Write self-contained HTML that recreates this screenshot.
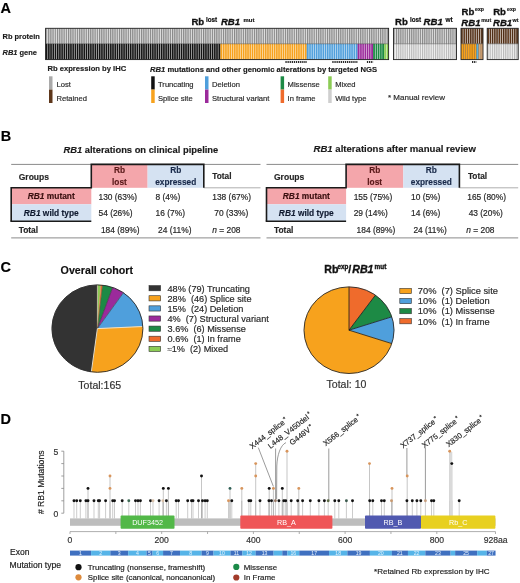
<!DOCTYPE html>
<html><head><meta charset="utf-8"><title>RB1 figure</title>
<style>
html,body{margin:0;padding:0;background:#fff;}
body{width:520px;height:583px;overflow:hidden;}
svg{display:block;font-family:"Liberation Sans",Arial,sans-serif;}
</style></head>
<body>
<svg width="520" height="583" viewBox="0 0 520 583">
<rect width="520" height="583" fill="#fff"/>
<text x="0.60" y="12.70" font-size="14.5" font-weight="bold" font-style="normal" fill="#000" text-anchor="start" stroke="#000" stroke-width="0.15" >A</text>
<text x="2.50" y="38.60" font-size="7.46" font-weight="bold" font-style="normal" fill="#1a1a1a" text-anchor="start" stroke="#1a1a1a" stroke-width="0.15" >Rb protein</text>
<text x="2.50" y="55.20" font-size="7.46" font-weight="bold" font-style="normal" fill="#1a1a1a" text-anchor="start" stroke="#1a1a1a" stroke-width="0.15" ><tspan font-style="italic">RB1</tspan> gene</text>
<rect x="45.600" y="28.3" width="2.233" height="15.50" fill="#a6a6a6"/>
<rect x="45.600" y="43.8" width="2.233" height="15.80" fill="#151515"/>
<rect x="47.813" y="28.3" width="2.233" height="15.50" fill="#a6a6a6"/>
<rect x="47.813" y="43.8" width="2.233" height="15.80" fill="#151515"/>
<rect x="50.026" y="28.3" width="2.233" height="15.50" fill="#a6a6a6"/>
<rect x="50.026" y="43.8" width="2.233" height="15.80" fill="#151515"/>
<rect x="52.239" y="28.3" width="2.233" height="15.50" fill="#a6a6a6"/>
<rect x="52.239" y="43.8" width="2.233" height="15.80" fill="#151515"/>
<rect x="54.452" y="28.3" width="2.233" height="15.50" fill="#a6a6a6"/>
<rect x="54.452" y="43.8" width="2.233" height="15.80" fill="#151515"/>
<rect x="56.665" y="28.3" width="2.233" height="15.50" fill="#a6a6a6"/>
<rect x="56.665" y="43.8" width="2.233" height="15.80" fill="#151515"/>
<rect x="58.878" y="28.3" width="2.233" height="15.50" fill="#a6a6a6"/>
<rect x="58.878" y="43.8" width="2.233" height="15.80" fill="#151515"/>
<rect x="61.091" y="28.3" width="2.233" height="15.50" fill="#a6a6a6"/>
<rect x="61.091" y="43.8" width="2.233" height="15.80" fill="#151515"/>
<rect x="63.304" y="28.3" width="2.233" height="15.50" fill="#a6a6a6"/>
<rect x="63.304" y="43.8" width="2.233" height="15.80" fill="#151515"/>
<rect x="65.517" y="28.3" width="2.233" height="15.50" fill="#a6a6a6"/>
<rect x="65.517" y="43.8" width="2.233" height="15.80" fill="#151515"/>
<rect x="67.730" y="28.3" width="2.233" height="15.50" fill="#a6a6a6"/>
<rect x="67.730" y="43.8" width="2.233" height="15.80" fill="#151515"/>
<rect x="69.943" y="28.3" width="2.233" height="15.50" fill="#a6a6a6"/>
<rect x="69.943" y="43.8" width="2.233" height="15.80" fill="#151515"/>
<rect x="72.156" y="28.3" width="2.233" height="15.50" fill="#a6a6a6"/>
<rect x="72.156" y="43.8" width="2.233" height="15.80" fill="#151515"/>
<rect x="74.369" y="28.3" width="2.233" height="15.50" fill="#a6a6a6"/>
<rect x="74.369" y="43.8" width="2.233" height="15.80" fill="#151515"/>
<rect x="76.582" y="28.3" width="2.233" height="15.50" fill="#a6a6a6"/>
<rect x="76.582" y="43.8" width="2.233" height="15.80" fill="#151515"/>
<rect x="78.795" y="28.3" width="2.233" height="15.50" fill="#a6a6a6"/>
<rect x="78.795" y="43.8" width="2.233" height="15.80" fill="#151515"/>
<rect x="81.008" y="28.3" width="2.233" height="15.50" fill="#a6a6a6"/>
<rect x="81.008" y="43.8" width="2.233" height="15.80" fill="#151515"/>
<rect x="83.221" y="28.3" width="2.233" height="15.50" fill="#a6a6a6"/>
<rect x="83.221" y="43.8" width="2.233" height="15.80" fill="#151515"/>
<rect x="85.434" y="28.3" width="2.233" height="15.50" fill="#a6a6a6"/>
<rect x="85.434" y="43.8" width="2.233" height="15.80" fill="#151515"/>
<rect x="87.647" y="28.3" width="2.233" height="15.50" fill="#a6a6a6"/>
<rect x="87.647" y="43.8" width="2.233" height="15.80" fill="#151515"/>
<rect x="89.860" y="28.3" width="2.233" height="15.50" fill="#a6a6a6"/>
<rect x="89.860" y="43.8" width="2.233" height="15.80" fill="#151515"/>
<rect x="92.073" y="28.3" width="2.233" height="15.50" fill="#a6a6a6"/>
<rect x="92.073" y="43.8" width="2.233" height="15.80" fill="#151515"/>
<rect x="94.286" y="28.3" width="2.233" height="15.50" fill="#a6a6a6"/>
<rect x="94.286" y="43.8" width="2.233" height="15.80" fill="#151515"/>
<rect x="96.499" y="28.3" width="2.233" height="15.50" fill="#a6a6a6"/>
<rect x="96.499" y="43.8" width="2.233" height="15.80" fill="#151515"/>
<rect x="98.712" y="28.3" width="2.233" height="15.50" fill="#a6a6a6"/>
<rect x="98.712" y="43.8" width="2.233" height="15.80" fill="#151515"/>
<rect x="100.925" y="28.3" width="2.233" height="15.50" fill="#a6a6a6"/>
<rect x="100.925" y="43.8" width="2.233" height="15.80" fill="#151515"/>
<rect x="103.138" y="28.3" width="2.233" height="15.50" fill="#a6a6a6"/>
<rect x="103.138" y="43.8" width="2.233" height="15.80" fill="#151515"/>
<rect x="105.351" y="28.3" width="2.233" height="15.50" fill="#a6a6a6"/>
<rect x="105.351" y="43.8" width="2.233" height="15.80" fill="#151515"/>
<rect x="107.564" y="28.3" width="2.233" height="15.50" fill="#a6a6a6"/>
<rect x="107.564" y="43.8" width="2.233" height="15.80" fill="#151515"/>
<rect x="109.777" y="28.3" width="2.233" height="15.50" fill="#a6a6a6"/>
<rect x="109.777" y="43.8" width="2.233" height="15.80" fill="#151515"/>
<rect x="111.990" y="28.3" width="2.233" height="15.50" fill="#a6a6a6"/>
<rect x="111.990" y="43.8" width="2.233" height="15.80" fill="#151515"/>
<rect x="114.203" y="28.3" width="2.233" height="15.50" fill="#a6a6a6"/>
<rect x="114.203" y="43.8" width="2.233" height="15.80" fill="#151515"/>
<rect x="116.416" y="28.3" width="2.233" height="15.50" fill="#a6a6a6"/>
<rect x="116.416" y="43.8" width="2.233" height="15.80" fill="#151515"/>
<rect x="118.629" y="28.3" width="2.233" height="15.50" fill="#a6a6a6"/>
<rect x="118.629" y="43.8" width="2.233" height="15.80" fill="#151515"/>
<rect x="120.842" y="28.3" width="2.233" height="15.50" fill="#a6a6a6"/>
<rect x="120.842" y="43.8" width="2.233" height="15.80" fill="#151515"/>
<rect x="123.055" y="28.3" width="2.233" height="15.50" fill="#a6a6a6"/>
<rect x="123.055" y="43.8" width="2.233" height="15.80" fill="#151515"/>
<rect x="125.268" y="28.3" width="2.233" height="15.50" fill="#a6a6a6"/>
<rect x="125.268" y="43.8" width="2.233" height="15.80" fill="#151515"/>
<rect x="127.481" y="28.3" width="2.233" height="15.50" fill="#a6a6a6"/>
<rect x="127.481" y="43.8" width="2.233" height="15.80" fill="#151515"/>
<rect x="129.694" y="28.3" width="2.233" height="15.50" fill="#a6a6a6"/>
<rect x="129.694" y="43.8" width="2.233" height="15.80" fill="#151515"/>
<rect x="131.907" y="28.3" width="2.233" height="15.50" fill="#a6a6a6"/>
<rect x="131.907" y="43.8" width="2.233" height="15.80" fill="#151515"/>
<rect x="134.120" y="28.3" width="2.233" height="15.50" fill="#a6a6a6"/>
<rect x="134.120" y="43.8" width="2.233" height="15.80" fill="#151515"/>
<rect x="136.333" y="28.3" width="2.233" height="15.50" fill="#a6a6a6"/>
<rect x="136.333" y="43.8" width="2.233" height="15.80" fill="#151515"/>
<rect x="138.546" y="28.3" width="2.233" height="15.50" fill="#a6a6a6"/>
<rect x="138.546" y="43.8" width="2.233" height="15.80" fill="#151515"/>
<rect x="140.759" y="28.3" width="2.233" height="15.50" fill="#a6a6a6"/>
<rect x="140.759" y="43.8" width="2.233" height="15.80" fill="#151515"/>
<rect x="142.972" y="28.3" width="2.233" height="15.50" fill="#a6a6a6"/>
<rect x="142.972" y="43.8" width="2.233" height="15.80" fill="#151515"/>
<rect x="145.185" y="28.3" width="2.233" height="15.50" fill="#a6a6a6"/>
<rect x="145.185" y="43.8" width="2.233" height="15.80" fill="#151515"/>
<rect x="147.398" y="28.3" width="2.233" height="15.50" fill="#a6a6a6"/>
<rect x="147.398" y="43.8" width="2.233" height="15.80" fill="#151515"/>
<rect x="149.611" y="28.3" width="2.233" height="15.50" fill="#a6a6a6"/>
<rect x="149.611" y="43.8" width="2.233" height="15.80" fill="#151515"/>
<rect x="151.824" y="28.3" width="2.233" height="15.50" fill="#a6a6a6"/>
<rect x="151.824" y="43.8" width="2.233" height="15.80" fill="#151515"/>
<rect x="154.037" y="28.3" width="2.233" height="15.50" fill="#a6a6a6"/>
<rect x="154.037" y="43.8" width="2.233" height="15.80" fill="#151515"/>
<rect x="156.250" y="28.3" width="2.233" height="15.50" fill="#a6a6a6"/>
<rect x="156.250" y="43.8" width="2.233" height="15.80" fill="#151515"/>
<rect x="158.463" y="28.3" width="2.233" height="15.50" fill="#a6a6a6"/>
<rect x="158.463" y="43.8" width="2.233" height="15.80" fill="#151515"/>
<rect x="160.676" y="28.3" width="2.233" height="15.50" fill="#a6a6a6"/>
<rect x="160.676" y="43.8" width="2.233" height="15.80" fill="#151515"/>
<rect x="162.889" y="28.3" width="2.233" height="15.50" fill="#a6a6a6"/>
<rect x="162.889" y="43.8" width="2.233" height="15.80" fill="#151515"/>
<rect x="165.102" y="28.3" width="2.233" height="15.50" fill="#a6a6a6"/>
<rect x="165.102" y="43.8" width="2.233" height="15.80" fill="#151515"/>
<rect x="167.315" y="28.3" width="2.233" height="15.50" fill="#a6a6a6"/>
<rect x="167.315" y="43.8" width="2.233" height="15.80" fill="#151515"/>
<rect x="169.528" y="28.3" width="2.233" height="15.50" fill="#a6a6a6"/>
<rect x="169.528" y="43.8" width="2.233" height="15.80" fill="#151515"/>
<rect x="171.741" y="28.3" width="2.233" height="15.50" fill="#a6a6a6"/>
<rect x="171.741" y="43.8" width="2.233" height="15.80" fill="#151515"/>
<rect x="173.954" y="28.3" width="2.233" height="15.50" fill="#a6a6a6"/>
<rect x="173.954" y="43.8" width="2.233" height="15.80" fill="#151515"/>
<rect x="176.167" y="28.3" width="2.233" height="15.50" fill="#a6a6a6"/>
<rect x="176.167" y="43.8" width="2.233" height="15.80" fill="#151515"/>
<rect x="178.380" y="28.3" width="2.233" height="15.50" fill="#a6a6a6"/>
<rect x="178.380" y="43.8" width="2.233" height="15.80" fill="#151515"/>
<rect x="180.593" y="28.3" width="2.233" height="15.50" fill="#a6a6a6"/>
<rect x="180.593" y="43.8" width="2.233" height="15.80" fill="#151515"/>
<rect x="182.806" y="28.3" width="2.233" height="15.50" fill="#a6a6a6"/>
<rect x="182.806" y="43.8" width="2.233" height="15.80" fill="#151515"/>
<rect x="185.019" y="28.3" width="2.233" height="15.50" fill="#a6a6a6"/>
<rect x="185.019" y="43.8" width="2.233" height="15.80" fill="#151515"/>
<rect x="187.232" y="28.3" width="2.233" height="15.50" fill="#a6a6a6"/>
<rect x="187.232" y="43.8" width="2.233" height="15.80" fill="#151515"/>
<rect x="189.445" y="28.3" width="2.233" height="15.50" fill="#a6a6a6"/>
<rect x="189.445" y="43.8" width="2.233" height="15.80" fill="#151515"/>
<rect x="191.658" y="28.3" width="2.233" height="15.50" fill="#a6a6a6"/>
<rect x="191.658" y="43.8" width="2.233" height="15.80" fill="#151515"/>
<rect x="193.871" y="28.3" width="2.233" height="15.50" fill="#a6a6a6"/>
<rect x="193.871" y="43.8" width="2.233" height="15.80" fill="#151515"/>
<rect x="196.084" y="28.3" width="2.233" height="15.50" fill="#a6a6a6"/>
<rect x="196.084" y="43.8" width="2.233" height="15.80" fill="#151515"/>
<rect x="198.297" y="28.3" width="2.233" height="15.50" fill="#a6a6a6"/>
<rect x="198.297" y="43.8" width="2.233" height="15.80" fill="#151515"/>
<rect x="200.510" y="28.3" width="2.233" height="15.50" fill="#a6a6a6"/>
<rect x="200.510" y="43.8" width="2.233" height="15.80" fill="#151515"/>
<rect x="202.723" y="28.3" width="2.233" height="15.50" fill="#a6a6a6"/>
<rect x="202.723" y="43.8" width="2.233" height="15.80" fill="#151515"/>
<rect x="204.936" y="28.3" width="2.233" height="15.50" fill="#a6a6a6"/>
<rect x="204.936" y="43.8" width="2.233" height="15.80" fill="#151515"/>
<rect x="207.149" y="28.3" width="2.233" height="15.50" fill="#a6a6a6"/>
<rect x="207.149" y="43.8" width="2.233" height="15.80" fill="#151515"/>
<rect x="209.362" y="28.3" width="2.233" height="15.50" fill="#a6a6a6"/>
<rect x="209.362" y="43.8" width="2.233" height="15.80" fill="#151515"/>
<rect x="211.575" y="28.3" width="2.233" height="15.50" fill="#a6a6a6"/>
<rect x="211.575" y="43.8" width="2.233" height="15.80" fill="#151515"/>
<rect x="213.788" y="28.3" width="2.233" height="15.50" fill="#a6a6a6"/>
<rect x="213.788" y="43.8" width="2.233" height="15.80" fill="#151515"/>
<rect x="216.001" y="28.3" width="2.233" height="15.50" fill="#a6a6a6"/>
<rect x="216.001" y="43.8" width="2.233" height="15.80" fill="#151515"/>
<rect x="218.214" y="28.3" width="2.233" height="15.50" fill="#a6a6a6"/>
<rect x="218.214" y="43.8" width="2.233" height="15.80" fill="#151515"/>
<rect x="220.427" y="28.3" width="2.233" height="15.50" fill="#a6a6a6"/>
<rect x="220.427" y="43.8" width="2.233" height="15.80" fill="#f7a21d"/>
<rect x="222.640" y="28.3" width="2.233" height="15.50" fill="#a6a6a6"/>
<rect x="222.640" y="43.8" width="2.233" height="15.80" fill="#f7a21d"/>
<rect x="224.853" y="28.3" width="2.233" height="15.50" fill="#a6a6a6"/>
<rect x="224.853" y="43.8" width="2.233" height="15.80" fill="#f7a21d"/>
<rect x="227.066" y="28.3" width="2.233" height="15.50" fill="#a6a6a6"/>
<rect x="227.066" y="43.8" width="2.233" height="15.80" fill="#f7a21d"/>
<rect x="229.279" y="28.3" width="2.233" height="15.50" fill="#a6a6a6"/>
<rect x="229.279" y="43.8" width="2.233" height="15.80" fill="#f7a21d"/>
<rect x="231.492" y="28.3" width="2.233" height="15.50" fill="#a6a6a6"/>
<rect x="231.492" y="43.8" width="2.233" height="15.80" fill="#f7a21d"/>
<rect x="233.705" y="28.3" width="2.233" height="15.50" fill="#a6a6a6"/>
<rect x="233.705" y="43.8" width="2.233" height="15.80" fill="#f7a21d"/>
<rect x="235.918" y="28.3" width="2.233" height="15.50" fill="#a6a6a6"/>
<rect x="235.918" y="43.8" width="2.233" height="15.80" fill="#f7a21d"/>
<rect x="238.131" y="28.3" width="2.233" height="15.50" fill="#a6a6a6"/>
<rect x="238.131" y="43.8" width="2.233" height="15.80" fill="#f7a21d"/>
<rect x="240.344" y="28.3" width="2.233" height="15.50" fill="#a6a6a6"/>
<rect x="240.344" y="43.8" width="2.233" height="15.80" fill="#f7a21d"/>
<rect x="242.557" y="28.3" width="2.233" height="15.50" fill="#a6a6a6"/>
<rect x="242.557" y="43.8" width="2.233" height="15.80" fill="#f7a21d"/>
<rect x="244.770" y="28.3" width="2.233" height="15.50" fill="#a6a6a6"/>
<rect x="244.770" y="43.8" width="2.233" height="15.80" fill="#f7a21d"/>
<rect x="246.983" y="28.3" width="2.233" height="15.50" fill="#a6a6a6"/>
<rect x="246.983" y="43.8" width="2.233" height="15.80" fill="#f7a21d"/>
<rect x="249.196" y="28.3" width="2.233" height="15.50" fill="#a6a6a6"/>
<rect x="249.196" y="43.8" width="2.233" height="15.80" fill="#f7a21d"/>
<rect x="251.409" y="28.3" width="2.233" height="15.50" fill="#a6a6a6"/>
<rect x="251.409" y="43.8" width="2.233" height="15.80" fill="#f7a21d"/>
<rect x="253.622" y="28.3" width="2.233" height="15.50" fill="#a6a6a6"/>
<rect x="253.622" y="43.8" width="2.233" height="15.80" fill="#f7a21d"/>
<rect x="255.835" y="28.3" width="2.233" height="15.50" fill="#a6a6a6"/>
<rect x="255.835" y="43.8" width="2.233" height="15.80" fill="#f7a21d"/>
<rect x="258.048" y="28.3" width="2.233" height="15.50" fill="#a6a6a6"/>
<rect x="258.048" y="43.8" width="2.233" height="15.80" fill="#f7a21d"/>
<rect x="260.261" y="28.3" width="2.233" height="15.50" fill="#a6a6a6"/>
<rect x="260.261" y="43.8" width="2.233" height="15.80" fill="#f7a21d"/>
<rect x="262.474" y="28.3" width="2.233" height="15.50" fill="#a6a6a6"/>
<rect x="262.474" y="43.8" width="2.233" height="15.80" fill="#f7a21d"/>
<rect x="264.687" y="28.3" width="2.233" height="15.50" fill="#a6a6a6"/>
<rect x="264.687" y="43.8" width="2.233" height="15.80" fill="#f7a21d"/>
<rect x="266.900" y="28.3" width="2.233" height="15.50" fill="#a6a6a6"/>
<rect x="266.900" y="43.8" width="2.233" height="15.80" fill="#f7a21d"/>
<rect x="269.113" y="28.3" width="2.233" height="15.50" fill="#a6a6a6"/>
<rect x="269.113" y="43.8" width="2.233" height="15.80" fill="#f7a21d"/>
<rect x="271.326" y="28.3" width="2.233" height="15.50" fill="#a6a6a6"/>
<rect x="271.326" y="43.8" width="2.233" height="15.80" fill="#f7a21d"/>
<rect x="273.539" y="28.3" width="2.233" height="15.50" fill="#a6a6a6"/>
<rect x="273.539" y="43.8" width="2.233" height="15.80" fill="#f7a21d"/>
<rect x="275.752" y="28.3" width="2.233" height="15.50" fill="#a6a6a6"/>
<rect x="275.752" y="43.8" width="2.233" height="15.80" fill="#f7a21d"/>
<rect x="277.965" y="28.3" width="2.233" height="15.50" fill="#a6a6a6"/>
<rect x="277.965" y="43.8" width="2.233" height="15.80" fill="#f7a21d"/>
<rect x="280.178" y="28.3" width="2.233" height="15.50" fill="#a6a6a6"/>
<rect x="280.178" y="43.8" width="2.233" height="15.80" fill="#f7a21d"/>
<rect x="282.391" y="28.3" width="2.233" height="15.50" fill="#a6a6a6"/>
<rect x="282.391" y="43.8" width="2.233" height="15.80" fill="#f7a21d"/>
<rect x="284.604" y="28.3" width="2.233" height="15.50" fill="#a6a6a6"/>
<rect x="284.604" y="43.8" width="2.233" height="15.80" fill="#f7a21d"/>
<rect x="286.817" y="28.3" width="2.233" height="15.50" fill="#a6a6a6"/>
<rect x="286.817" y="43.8" width="2.233" height="15.80" fill="#f7a21d"/>
<rect x="289.030" y="28.3" width="2.233" height="15.50" fill="#a6a6a6"/>
<rect x="289.030" y="43.8" width="2.233" height="15.80" fill="#f7a21d"/>
<rect x="291.243" y="28.3" width="2.233" height="15.50" fill="#a6a6a6"/>
<rect x="291.243" y="43.8" width="2.233" height="15.80" fill="#f7a21d"/>
<rect x="293.456" y="28.3" width="2.233" height="15.50" fill="#a6a6a6"/>
<rect x="293.456" y="43.8" width="2.233" height="15.80" fill="#f7a21d"/>
<rect x="295.669" y="28.3" width="2.233" height="15.50" fill="#a6a6a6"/>
<rect x="295.669" y="43.8" width="2.233" height="15.80" fill="#f7a21d"/>
<rect x="297.882" y="28.3" width="2.233" height="15.50" fill="#a6a6a6"/>
<rect x="297.882" y="43.8" width="2.233" height="15.80" fill="#f7a21d"/>
<rect x="300.095" y="28.3" width="2.233" height="15.50" fill="#a6a6a6"/>
<rect x="300.095" y="43.8" width="2.233" height="15.80" fill="#f7a21d"/>
<rect x="302.308" y="28.3" width="2.233" height="15.50" fill="#a6a6a6"/>
<rect x="302.308" y="43.8" width="2.233" height="15.80" fill="#f7a21d"/>
<rect x="304.521" y="28.3" width="2.233" height="15.50" fill="#a6a6a6"/>
<rect x="304.521" y="43.8" width="2.233" height="15.80" fill="#f7a21d"/>
<rect x="306.734" y="28.3" width="2.233" height="15.50" fill="#a6a6a6"/>
<rect x="306.734" y="43.8" width="2.233" height="15.80" fill="#4f9fdc"/>
<rect x="308.947" y="28.3" width="2.233" height="15.50" fill="#a6a6a6"/>
<rect x="308.947" y="43.8" width="2.233" height="15.80" fill="#4f9fdc"/>
<rect x="311.160" y="28.3" width="2.233" height="15.50" fill="#a6a6a6"/>
<rect x="311.160" y="43.8" width="2.233" height="15.80" fill="#4f9fdc"/>
<rect x="313.373" y="28.3" width="2.233" height="15.50" fill="#a6a6a6"/>
<rect x="313.373" y="43.8" width="2.233" height="15.80" fill="#4f9fdc"/>
<rect x="315.586" y="28.3" width="2.233" height="15.50" fill="#a6a6a6"/>
<rect x="315.586" y="43.8" width="2.233" height="15.80" fill="#4f9fdc"/>
<rect x="317.799" y="28.3" width="2.233" height="15.50" fill="#a6a6a6"/>
<rect x="317.799" y="43.8" width="2.233" height="15.80" fill="#4f9fdc"/>
<rect x="320.012" y="28.3" width="2.233" height="15.50" fill="#a6a6a6"/>
<rect x="320.012" y="43.8" width="2.233" height="15.80" fill="#4f9fdc"/>
<rect x="322.225" y="28.3" width="2.233" height="15.50" fill="#a6a6a6"/>
<rect x="322.225" y="43.8" width="2.233" height="15.80" fill="#4f9fdc"/>
<rect x="324.438" y="28.3" width="2.233" height="15.50" fill="#a6a6a6"/>
<rect x="324.438" y="43.8" width="2.233" height="15.80" fill="#4f9fdc"/>
<rect x="326.651" y="28.3" width="2.233" height="15.50" fill="#a6a6a6"/>
<rect x="326.651" y="43.8" width="2.233" height="15.80" fill="#4f9fdc"/>
<rect x="328.864" y="28.3" width="2.233" height="15.50" fill="#a6a6a6"/>
<rect x="328.864" y="43.8" width="2.233" height="15.80" fill="#4f9fdc"/>
<rect x="331.077" y="28.3" width="2.233" height="15.50" fill="#a6a6a6"/>
<rect x="331.077" y="43.8" width="2.233" height="15.80" fill="#4f9fdc"/>
<rect x="333.290" y="28.3" width="2.233" height="15.50" fill="#a6a6a6"/>
<rect x="333.290" y="43.8" width="2.233" height="15.80" fill="#4f9fdc"/>
<rect x="335.503" y="28.3" width="2.233" height="15.50" fill="#a6a6a6"/>
<rect x="335.503" y="43.8" width="2.233" height="15.80" fill="#4f9fdc"/>
<rect x="337.716" y="28.3" width="2.233" height="15.50" fill="#a6a6a6"/>
<rect x="337.716" y="43.8" width="2.233" height="15.80" fill="#4f9fdc"/>
<rect x="339.929" y="28.3" width="2.233" height="15.50" fill="#a6a6a6"/>
<rect x="339.929" y="43.8" width="2.233" height="15.80" fill="#4f9fdc"/>
<rect x="342.142" y="28.3" width="2.233" height="15.50" fill="#a6a6a6"/>
<rect x="342.142" y="43.8" width="2.233" height="15.80" fill="#4f9fdc"/>
<rect x="344.355" y="28.3" width="2.233" height="15.50" fill="#a6a6a6"/>
<rect x="344.355" y="43.8" width="2.233" height="15.80" fill="#4f9fdc"/>
<rect x="346.568" y="28.3" width="2.233" height="15.50" fill="#a6a6a6"/>
<rect x="346.568" y="43.8" width="2.233" height="15.80" fill="#4f9fdc"/>
<rect x="348.781" y="28.3" width="2.233" height="15.50" fill="#a6a6a6"/>
<rect x="348.781" y="43.8" width="2.233" height="15.80" fill="#4f9fdc"/>
<rect x="350.994" y="28.3" width="2.233" height="15.50" fill="#a6a6a6"/>
<rect x="350.994" y="43.8" width="2.233" height="15.80" fill="#4f9fdc"/>
<rect x="353.207" y="28.3" width="2.233" height="15.50" fill="#a6a6a6"/>
<rect x="353.207" y="43.8" width="2.233" height="15.80" fill="#4f9fdc"/>
<rect x="355.420" y="28.3" width="2.233" height="15.50" fill="#a6a6a6"/>
<rect x="355.420" y="43.8" width="2.233" height="15.80" fill="#4f9fdc"/>
<rect x="357.633" y="28.3" width="2.233" height="15.50" fill="#a6a6a6"/>
<rect x="357.633" y="43.8" width="2.233" height="15.80" fill="#9b2a9b"/>
<rect x="359.846" y="28.3" width="2.233" height="15.50" fill="#a6a6a6"/>
<rect x="359.846" y="43.8" width="2.233" height="15.80" fill="#9b2a9b"/>
<rect x="362.059" y="28.3" width="2.233" height="15.50" fill="#a6a6a6"/>
<rect x="362.059" y="43.8" width="2.233" height="15.80" fill="#9b2a9b"/>
<rect x="364.272" y="28.3" width="2.233" height="15.50" fill="#a6a6a6"/>
<rect x="364.272" y="43.8" width="2.233" height="15.80" fill="#9b2a9b"/>
<rect x="366.485" y="28.3" width="2.233" height="15.50" fill="#a6a6a6"/>
<rect x="366.485" y="43.8" width="2.233" height="15.80" fill="#9b2a9b"/>
<rect x="368.698" y="28.3" width="2.233" height="15.50" fill="#a6a6a6"/>
<rect x="368.698" y="43.8" width="2.233" height="15.80" fill="#9b2a9b"/>
<rect x="370.911" y="28.3" width="2.233" height="15.50" fill="#a6a6a6"/>
<rect x="370.911" y="43.8" width="2.233" height="15.80" fill="#9b2a9b"/>
<rect x="373.124" y="28.3" width="2.233" height="15.50" fill="#a6a6a6"/>
<rect x="373.124" y="43.8" width="2.233" height="15.80" fill="#1d8a45"/>
<rect x="375.337" y="28.3" width="2.233" height="15.50" fill="#a6a6a6"/>
<rect x="375.337" y="43.8" width="2.233" height="15.80" fill="#1d8a45"/>
<rect x="377.550" y="28.3" width="2.233" height="15.50" fill="#a6a6a6"/>
<rect x="377.550" y="43.8" width="2.233" height="15.80" fill="#1d8a45"/>
<rect x="379.763" y="28.3" width="2.233" height="15.50" fill="#a6a6a6"/>
<rect x="379.763" y="43.8" width="2.233" height="15.80" fill="#1d8a45"/>
<rect x="381.976" y="28.3" width="2.233" height="15.50" fill="#a6a6a6"/>
<rect x="381.976" y="43.8" width="2.233" height="15.80" fill="#1d8a45"/>
<rect x="384.189" y="28.3" width="2.233" height="15.50" fill="#a6a6a6"/>
<rect x="384.189" y="43.8" width="2.233" height="15.80" fill="#8ccc55"/>
<rect x="386.402" y="28.3" width="2.233" height="15.50" fill="#a6a6a6"/>
<rect x="386.402" y="43.8" width="2.233" height="15.80" fill="#8ccc55"/>
<rect x="47.363" y="28.3" width="0.75" height="15.50" fill="#ffffff" opacity="0.72"/>
<rect x="48.113" y="28.3" width="0.45" height="15.50" fill="#000" opacity="0.38"/>
<rect x="47.363" y="43.8" width="0.75" height="15.80" fill="#ffffff" opacity="0.6"/>
<rect x="48.113" y="43.8" width="0.45" height="15.80" fill="#000" opacity="0.3"/>
<rect x="49.576" y="28.3" width="0.75" height="15.50" fill="#ffffff" opacity="0.72"/>
<rect x="50.326" y="28.3" width="0.45" height="15.50" fill="#000" opacity="0.38"/>
<rect x="49.576" y="43.8" width="0.75" height="15.80" fill="#ffffff" opacity="0.6"/>
<rect x="50.326" y="43.8" width="0.45" height="15.80" fill="#000" opacity="0.3"/>
<rect x="51.789" y="28.3" width="0.75" height="15.50" fill="#ffffff" opacity="0.72"/>
<rect x="52.539" y="28.3" width="0.45" height="15.50" fill="#000" opacity="0.38"/>
<rect x="51.789" y="43.8" width="0.75" height="15.80" fill="#ffffff" opacity="0.6"/>
<rect x="52.539" y="43.8" width="0.45" height="15.80" fill="#000" opacity="0.3"/>
<rect x="54.002" y="28.3" width="0.75" height="15.50" fill="#ffffff" opacity="0.72"/>
<rect x="54.752" y="28.3" width="0.45" height="15.50" fill="#000" opacity="0.38"/>
<rect x="54.002" y="43.8" width="0.75" height="15.80" fill="#ffffff" opacity="0.6"/>
<rect x="54.752" y="43.8" width="0.45" height="15.80" fill="#000" opacity="0.3"/>
<rect x="56.215" y="28.3" width="0.75" height="15.50" fill="#ffffff" opacity="0.72"/>
<rect x="56.965" y="28.3" width="0.45" height="15.50" fill="#000" opacity="0.38"/>
<rect x="56.215" y="43.8" width="0.75" height="15.80" fill="#ffffff" opacity="0.6"/>
<rect x="56.965" y="43.8" width="0.45" height="15.80" fill="#000" opacity="0.3"/>
<rect x="58.428" y="28.3" width="0.75" height="15.50" fill="#ffffff" opacity="0.72"/>
<rect x="59.178" y="28.3" width="0.45" height="15.50" fill="#000" opacity="0.38"/>
<rect x="58.428" y="43.8" width="0.75" height="15.80" fill="#ffffff" opacity="0.6"/>
<rect x="59.178" y="43.8" width="0.45" height="15.80" fill="#000" opacity="0.3"/>
<rect x="60.641" y="28.3" width="0.75" height="15.50" fill="#ffffff" opacity="0.72"/>
<rect x="61.391" y="28.3" width="0.45" height="15.50" fill="#000" opacity="0.38"/>
<rect x="60.641" y="43.8" width="0.75" height="15.80" fill="#ffffff" opacity="0.6"/>
<rect x="61.391" y="43.8" width="0.45" height="15.80" fill="#000" opacity="0.3"/>
<rect x="62.854" y="28.3" width="0.75" height="15.50" fill="#ffffff" opacity="0.72"/>
<rect x="63.604" y="28.3" width="0.45" height="15.50" fill="#000" opacity="0.38"/>
<rect x="62.854" y="43.8" width="0.75" height="15.80" fill="#ffffff" opacity="0.6"/>
<rect x="63.604" y="43.8" width="0.45" height="15.80" fill="#000" opacity="0.3"/>
<rect x="65.067" y="28.3" width="0.75" height="15.50" fill="#ffffff" opacity="0.72"/>
<rect x="65.817" y="28.3" width="0.45" height="15.50" fill="#000" opacity="0.38"/>
<rect x="65.067" y="43.8" width="0.75" height="15.80" fill="#ffffff" opacity="0.6"/>
<rect x="65.817" y="43.8" width="0.45" height="15.80" fill="#000" opacity="0.3"/>
<rect x="67.280" y="28.3" width="0.75" height="15.50" fill="#ffffff" opacity="0.72"/>
<rect x="68.030" y="28.3" width="0.45" height="15.50" fill="#000" opacity="0.38"/>
<rect x="67.280" y="43.8" width="0.75" height="15.80" fill="#ffffff" opacity="0.6"/>
<rect x="68.030" y="43.8" width="0.45" height="15.80" fill="#000" opacity="0.3"/>
<rect x="69.493" y="28.3" width="0.75" height="15.50" fill="#ffffff" opacity="0.72"/>
<rect x="70.243" y="28.3" width="0.45" height="15.50" fill="#000" opacity="0.38"/>
<rect x="69.493" y="43.8" width="0.75" height="15.80" fill="#ffffff" opacity="0.6"/>
<rect x="70.243" y="43.8" width="0.45" height="15.80" fill="#000" opacity="0.3"/>
<rect x="71.706" y="28.3" width="0.75" height="15.50" fill="#ffffff" opacity="0.72"/>
<rect x="72.456" y="28.3" width="0.45" height="15.50" fill="#000" opacity="0.38"/>
<rect x="71.706" y="43.8" width="0.75" height="15.80" fill="#ffffff" opacity="0.6"/>
<rect x="72.456" y="43.8" width="0.45" height="15.80" fill="#000" opacity="0.3"/>
<rect x="73.919" y="28.3" width="0.75" height="15.50" fill="#ffffff" opacity="0.72"/>
<rect x="74.669" y="28.3" width="0.45" height="15.50" fill="#000" opacity="0.38"/>
<rect x="73.919" y="43.8" width="0.75" height="15.80" fill="#ffffff" opacity="0.6"/>
<rect x="74.669" y="43.8" width="0.45" height="15.80" fill="#000" opacity="0.3"/>
<rect x="76.132" y="28.3" width="0.75" height="15.50" fill="#ffffff" opacity="0.72"/>
<rect x="76.882" y="28.3" width="0.45" height="15.50" fill="#000" opacity="0.38"/>
<rect x="76.132" y="43.8" width="0.75" height="15.80" fill="#ffffff" opacity="0.6"/>
<rect x="76.882" y="43.8" width="0.45" height="15.80" fill="#000" opacity="0.3"/>
<rect x="78.345" y="28.3" width="0.75" height="15.50" fill="#ffffff" opacity="0.72"/>
<rect x="79.095" y="28.3" width="0.45" height="15.50" fill="#000" opacity="0.38"/>
<rect x="78.345" y="43.8" width="0.75" height="15.80" fill="#ffffff" opacity="0.6"/>
<rect x="79.095" y="43.8" width="0.45" height="15.80" fill="#000" opacity="0.3"/>
<rect x="80.558" y="28.3" width="0.75" height="15.50" fill="#ffffff" opacity="0.72"/>
<rect x="81.308" y="28.3" width="0.45" height="15.50" fill="#000" opacity="0.38"/>
<rect x="80.558" y="43.8" width="0.75" height="15.80" fill="#ffffff" opacity="0.6"/>
<rect x="81.308" y="43.8" width="0.45" height="15.80" fill="#000" opacity="0.3"/>
<rect x="82.771" y="28.3" width="0.75" height="15.50" fill="#ffffff" opacity="0.72"/>
<rect x="83.521" y="28.3" width="0.45" height="15.50" fill="#000" opacity="0.38"/>
<rect x="82.771" y="43.8" width="0.75" height="15.80" fill="#ffffff" opacity="0.6"/>
<rect x="83.521" y="43.8" width="0.45" height="15.80" fill="#000" opacity="0.3"/>
<rect x="84.984" y="28.3" width="0.75" height="15.50" fill="#ffffff" opacity="0.72"/>
<rect x="85.734" y="28.3" width="0.45" height="15.50" fill="#000" opacity="0.38"/>
<rect x="84.984" y="43.8" width="0.75" height="15.80" fill="#ffffff" opacity="0.6"/>
<rect x="85.734" y="43.8" width="0.45" height="15.80" fill="#000" opacity="0.3"/>
<rect x="87.197" y="28.3" width="0.75" height="15.50" fill="#ffffff" opacity="0.72"/>
<rect x="87.947" y="28.3" width="0.45" height="15.50" fill="#000" opacity="0.38"/>
<rect x="87.197" y="43.8" width="0.75" height="15.80" fill="#ffffff" opacity="0.6"/>
<rect x="87.947" y="43.8" width="0.45" height="15.80" fill="#000" opacity="0.3"/>
<rect x="89.410" y="28.3" width="0.75" height="15.50" fill="#ffffff" opacity="0.72"/>
<rect x="90.160" y="28.3" width="0.45" height="15.50" fill="#000" opacity="0.38"/>
<rect x="89.410" y="43.8" width="0.75" height="15.80" fill="#ffffff" opacity="0.6"/>
<rect x="90.160" y="43.8" width="0.45" height="15.80" fill="#000" opacity="0.3"/>
<rect x="91.623" y="28.3" width="0.75" height="15.50" fill="#ffffff" opacity="0.72"/>
<rect x="92.373" y="28.3" width="0.45" height="15.50" fill="#000" opacity="0.38"/>
<rect x="91.623" y="43.8" width="0.75" height="15.80" fill="#ffffff" opacity="0.6"/>
<rect x="92.373" y="43.8" width="0.45" height="15.80" fill="#000" opacity="0.3"/>
<rect x="93.836" y="28.3" width="0.75" height="15.50" fill="#ffffff" opacity="0.72"/>
<rect x="94.586" y="28.3" width="0.45" height="15.50" fill="#000" opacity="0.38"/>
<rect x="93.836" y="43.8" width="0.75" height="15.80" fill="#ffffff" opacity="0.6"/>
<rect x="94.586" y="43.8" width="0.45" height="15.80" fill="#000" opacity="0.3"/>
<rect x="96.049" y="28.3" width="0.75" height="15.50" fill="#ffffff" opacity="0.72"/>
<rect x="96.799" y="28.3" width="0.45" height="15.50" fill="#000" opacity="0.38"/>
<rect x="96.049" y="43.8" width="0.75" height="15.80" fill="#ffffff" opacity="0.6"/>
<rect x="96.799" y="43.8" width="0.45" height="15.80" fill="#000" opacity="0.3"/>
<rect x="98.262" y="28.3" width="0.75" height="15.50" fill="#ffffff" opacity="0.72"/>
<rect x="99.012" y="28.3" width="0.45" height="15.50" fill="#000" opacity="0.38"/>
<rect x="98.262" y="43.8" width="0.75" height="15.80" fill="#ffffff" opacity="0.6"/>
<rect x="99.012" y="43.8" width="0.45" height="15.80" fill="#000" opacity="0.3"/>
<rect x="100.475" y="28.3" width="0.75" height="15.50" fill="#ffffff" opacity="0.72"/>
<rect x="101.225" y="28.3" width="0.45" height="15.50" fill="#000" opacity="0.38"/>
<rect x="100.475" y="43.8" width="0.75" height="15.80" fill="#ffffff" opacity="0.6"/>
<rect x="101.225" y="43.8" width="0.45" height="15.80" fill="#000" opacity="0.3"/>
<rect x="102.688" y="28.3" width="0.75" height="15.50" fill="#ffffff" opacity="0.72"/>
<rect x="103.438" y="28.3" width="0.45" height="15.50" fill="#000" opacity="0.38"/>
<rect x="102.688" y="43.8" width="0.75" height="15.80" fill="#ffffff" opacity="0.6"/>
<rect x="103.438" y="43.8" width="0.45" height="15.80" fill="#000" opacity="0.3"/>
<rect x="104.901" y="28.3" width="0.75" height="15.50" fill="#ffffff" opacity="0.72"/>
<rect x="105.651" y="28.3" width="0.45" height="15.50" fill="#000" opacity="0.38"/>
<rect x="104.901" y="43.8" width="0.75" height="15.80" fill="#ffffff" opacity="0.6"/>
<rect x="105.651" y="43.8" width="0.45" height="15.80" fill="#000" opacity="0.3"/>
<rect x="107.114" y="28.3" width="0.75" height="15.50" fill="#ffffff" opacity="0.72"/>
<rect x="107.864" y="28.3" width="0.45" height="15.50" fill="#000" opacity="0.38"/>
<rect x="107.114" y="43.8" width="0.75" height="15.80" fill="#ffffff" opacity="0.6"/>
<rect x="107.864" y="43.8" width="0.45" height="15.80" fill="#000" opacity="0.3"/>
<rect x="109.327" y="28.3" width="0.75" height="15.50" fill="#ffffff" opacity="0.72"/>
<rect x="110.077" y="28.3" width="0.45" height="15.50" fill="#000" opacity="0.38"/>
<rect x="109.327" y="43.8" width="0.75" height="15.80" fill="#ffffff" opacity="0.6"/>
<rect x="110.077" y="43.8" width="0.45" height="15.80" fill="#000" opacity="0.3"/>
<rect x="111.540" y="28.3" width="0.75" height="15.50" fill="#ffffff" opacity="0.72"/>
<rect x="112.290" y="28.3" width="0.45" height="15.50" fill="#000" opacity="0.38"/>
<rect x="111.540" y="43.8" width="0.75" height="15.80" fill="#ffffff" opacity="0.6"/>
<rect x="112.290" y="43.8" width="0.45" height="15.80" fill="#000" opacity="0.3"/>
<rect x="113.753" y="28.3" width="0.75" height="15.50" fill="#ffffff" opacity="0.72"/>
<rect x="114.503" y="28.3" width="0.45" height="15.50" fill="#000" opacity="0.38"/>
<rect x="113.753" y="43.8" width="0.75" height="15.80" fill="#ffffff" opacity="0.6"/>
<rect x="114.503" y="43.8" width="0.45" height="15.80" fill="#000" opacity="0.3"/>
<rect x="115.966" y="28.3" width="0.75" height="15.50" fill="#ffffff" opacity="0.72"/>
<rect x="116.716" y="28.3" width="0.45" height="15.50" fill="#000" opacity="0.38"/>
<rect x="115.966" y="43.8" width="0.75" height="15.80" fill="#ffffff" opacity="0.6"/>
<rect x="116.716" y="43.8" width="0.45" height="15.80" fill="#000" opacity="0.3"/>
<rect x="118.179" y="28.3" width="0.75" height="15.50" fill="#ffffff" opacity="0.72"/>
<rect x="118.929" y="28.3" width="0.45" height="15.50" fill="#000" opacity="0.38"/>
<rect x="118.179" y="43.8" width="0.75" height="15.80" fill="#ffffff" opacity="0.6"/>
<rect x="118.929" y="43.8" width="0.45" height="15.80" fill="#000" opacity="0.3"/>
<rect x="120.392" y="28.3" width="0.75" height="15.50" fill="#ffffff" opacity="0.72"/>
<rect x="121.142" y="28.3" width="0.45" height="15.50" fill="#000" opacity="0.38"/>
<rect x="120.392" y="43.8" width="0.75" height="15.80" fill="#ffffff" opacity="0.6"/>
<rect x="121.142" y="43.8" width="0.45" height="15.80" fill="#000" opacity="0.3"/>
<rect x="122.605" y="28.3" width="0.75" height="15.50" fill="#ffffff" opacity="0.72"/>
<rect x="123.355" y="28.3" width="0.45" height="15.50" fill="#000" opacity="0.38"/>
<rect x="122.605" y="43.8" width="0.75" height="15.80" fill="#ffffff" opacity="0.6"/>
<rect x="123.355" y="43.8" width="0.45" height="15.80" fill="#000" opacity="0.3"/>
<rect x="124.818" y="28.3" width="0.75" height="15.50" fill="#ffffff" opacity="0.72"/>
<rect x="125.568" y="28.3" width="0.45" height="15.50" fill="#000" opacity="0.38"/>
<rect x="124.818" y="43.8" width="0.75" height="15.80" fill="#ffffff" opacity="0.6"/>
<rect x="125.568" y="43.8" width="0.45" height="15.80" fill="#000" opacity="0.3"/>
<rect x="127.031" y="28.3" width="0.75" height="15.50" fill="#ffffff" opacity="0.72"/>
<rect x="127.781" y="28.3" width="0.45" height="15.50" fill="#000" opacity="0.38"/>
<rect x="127.031" y="43.8" width="0.75" height="15.80" fill="#ffffff" opacity="0.6"/>
<rect x="127.781" y="43.8" width="0.45" height="15.80" fill="#000" opacity="0.3"/>
<rect x="129.244" y="28.3" width="0.75" height="15.50" fill="#ffffff" opacity="0.72"/>
<rect x="129.994" y="28.3" width="0.45" height="15.50" fill="#000" opacity="0.38"/>
<rect x="129.244" y="43.8" width="0.75" height="15.80" fill="#ffffff" opacity="0.6"/>
<rect x="129.994" y="43.8" width="0.45" height="15.80" fill="#000" opacity="0.3"/>
<rect x="131.457" y="28.3" width="0.75" height="15.50" fill="#ffffff" opacity="0.72"/>
<rect x="132.207" y="28.3" width="0.45" height="15.50" fill="#000" opacity="0.38"/>
<rect x="131.457" y="43.8" width="0.75" height="15.80" fill="#ffffff" opacity="0.6"/>
<rect x="132.207" y="43.8" width="0.45" height="15.80" fill="#000" opacity="0.3"/>
<rect x="133.670" y="28.3" width="0.75" height="15.50" fill="#ffffff" opacity="0.72"/>
<rect x="134.420" y="28.3" width="0.45" height="15.50" fill="#000" opacity="0.38"/>
<rect x="133.670" y="43.8" width="0.75" height="15.80" fill="#ffffff" opacity="0.6"/>
<rect x="134.420" y="43.8" width="0.45" height="15.80" fill="#000" opacity="0.3"/>
<rect x="135.883" y="28.3" width="0.75" height="15.50" fill="#ffffff" opacity="0.72"/>
<rect x="136.633" y="28.3" width="0.45" height="15.50" fill="#000" opacity="0.38"/>
<rect x="135.883" y="43.8" width="0.75" height="15.80" fill="#ffffff" opacity="0.6"/>
<rect x="136.633" y="43.8" width="0.45" height="15.80" fill="#000" opacity="0.3"/>
<rect x="138.096" y="28.3" width="0.75" height="15.50" fill="#ffffff" opacity="0.72"/>
<rect x="138.846" y="28.3" width="0.45" height="15.50" fill="#000" opacity="0.38"/>
<rect x="138.096" y="43.8" width="0.75" height="15.80" fill="#ffffff" opacity="0.6"/>
<rect x="138.846" y="43.8" width="0.45" height="15.80" fill="#000" opacity="0.3"/>
<rect x="140.309" y="28.3" width="0.75" height="15.50" fill="#ffffff" opacity="0.72"/>
<rect x="141.059" y="28.3" width="0.45" height="15.50" fill="#000" opacity="0.38"/>
<rect x="140.309" y="43.8" width="0.75" height="15.80" fill="#ffffff" opacity="0.6"/>
<rect x="141.059" y="43.8" width="0.45" height="15.80" fill="#000" opacity="0.3"/>
<rect x="142.522" y="28.3" width="0.75" height="15.50" fill="#ffffff" opacity="0.72"/>
<rect x="143.272" y="28.3" width="0.45" height="15.50" fill="#000" opacity="0.38"/>
<rect x="142.522" y="43.8" width="0.75" height="15.80" fill="#ffffff" opacity="0.6"/>
<rect x="143.272" y="43.8" width="0.45" height="15.80" fill="#000" opacity="0.3"/>
<rect x="144.735" y="28.3" width="0.75" height="15.50" fill="#ffffff" opacity="0.72"/>
<rect x="145.485" y="28.3" width="0.45" height="15.50" fill="#000" opacity="0.38"/>
<rect x="144.735" y="43.8" width="0.75" height="15.80" fill="#ffffff" opacity="0.6"/>
<rect x="145.485" y="43.8" width="0.45" height="15.80" fill="#000" opacity="0.3"/>
<rect x="146.948" y="28.3" width="0.75" height="15.50" fill="#ffffff" opacity="0.72"/>
<rect x="147.698" y="28.3" width="0.45" height="15.50" fill="#000" opacity="0.38"/>
<rect x="146.948" y="43.8" width="0.75" height="15.80" fill="#ffffff" opacity="0.6"/>
<rect x="147.698" y="43.8" width="0.45" height="15.80" fill="#000" opacity="0.3"/>
<rect x="149.161" y="28.3" width="0.75" height="15.50" fill="#ffffff" opacity="0.72"/>
<rect x="149.911" y="28.3" width="0.45" height="15.50" fill="#000" opacity="0.38"/>
<rect x="149.161" y="43.8" width="0.75" height="15.80" fill="#ffffff" opacity="0.6"/>
<rect x="149.911" y="43.8" width="0.45" height="15.80" fill="#000" opacity="0.3"/>
<rect x="151.374" y="28.3" width="0.75" height="15.50" fill="#ffffff" opacity="0.72"/>
<rect x="152.124" y="28.3" width="0.45" height="15.50" fill="#000" opacity="0.38"/>
<rect x="151.374" y="43.8" width="0.75" height="15.80" fill="#ffffff" opacity="0.6"/>
<rect x="152.124" y="43.8" width="0.45" height="15.80" fill="#000" opacity="0.3"/>
<rect x="153.587" y="28.3" width="0.75" height="15.50" fill="#ffffff" opacity="0.72"/>
<rect x="154.337" y="28.3" width="0.45" height="15.50" fill="#000" opacity="0.38"/>
<rect x="153.587" y="43.8" width="0.75" height="15.80" fill="#ffffff" opacity="0.6"/>
<rect x="154.337" y="43.8" width="0.45" height="15.80" fill="#000" opacity="0.3"/>
<rect x="155.800" y="28.3" width="0.75" height="15.50" fill="#ffffff" opacity="0.72"/>
<rect x="156.550" y="28.3" width="0.45" height="15.50" fill="#000" opacity="0.38"/>
<rect x="155.800" y="43.8" width="0.75" height="15.80" fill="#ffffff" opacity="0.6"/>
<rect x="156.550" y="43.8" width="0.45" height="15.80" fill="#000" opacity="0.3"/>
<rect x="158.013" y="28.3" width="0.75" height="15.50" fill="#ffffff" opacity="0.72"/>
<rect x="158.763" y="28.3" width="0.45" height="15.50" fill="#000" opacity="0.38"/>
<rect x="158.013" y="43.8" width="0.75" height="15.80" fill="#ffffff" opacity="0.6"/>
<rect x="158.763" y="43.8" width="0.45" height="15.80" fill="#000" opacity="0.3"/>
<rect x="160.226" y="28.3" width="0.75" height="15.50" fill="#ffffff" opacity="0.72"/>
<rect x="160.976" y="28.3" width="0.45" height="15.50" fill="#000" opacity="0.38"/>
<rect x="160.226" y="43.8" width="0.75" height="15.80" fill="#ffffff" opacity="0.6"/>
<rect x="160.976" y="43.8" width="0.45" height="15.80" fill="#000" opacity="0.3"/>
<rect x="162.439" y="28.3" width="0.75" height="15.50" fill="#ffffff" opacity="0.72"/>
<rect x="163.189" y="28.3" width="0.45" height="15.50" fill="#000" opacity="0.38"/>
<rect x="162.439" y="43.8" width="0.75" height="15.80" fill="#ffffff" opacity="0.6"/>
<rect x="163.189" y="43.8" width="0.45" height="15.80" fill="#000" opacity="0.3"/>
<rect x="164.652" y="28.3" width="0.75" height="15.50" fill="#ffffff" opacity="0.72"/>
<rect x="165.402" y="28.3" width="0.45" height="15.50" fill="#000" opacity="0.38"/>
<rect x="164.652" y="43.8" width="0.75" height="15.80" fill="#ffffff" opacity="0.6"/>
<rect x="165.402" y="43.8" width="0.45" height="15.80" fill="#000" opacity="0.3"/>
<rect x="166.865" y="28.3" width="0.75" height="15.50" fill="#ffffff" opacity="0.72"/>
<rect x="167.615" y="28.3" width="0.45" height="15.50" fill="#000" opacity="0.38"/>
<rect x="166.865" y="43.8" width="0.75" height="15.80" fill="#ffffff" opacity="0.6"/>
<rect x="167.615" y="43.8" width="0.45" height="15.80" fill="#000" opacity="0.3"/>
<rect x="169.078" y="28.3" width="0.75" height="15.50" fill="#ffffff" opacity="0.72"/>
<rect x="169.828" y="28.3" width="0.45" height="15.50" fill="#000" opacity="0.38"/>
<rect x="169.078" y="43.8" width="0.75" height="15.80" fill="#ffffff" opacity="0.6"/>
<rect x="169.828" y="43.8" width="0.45" height="15.80" fill="#000" opacity="0.3"/>
<rect x="171.291" y="28.3" width="0.75" height="15.50" fill="#ffffff" opacity="0.72"/>
<rect x="172.041" y="28.3" width="0.45" height="15.50" fill="#000" opacity="0.38"/>
<rect x="171.291" y="43.8" width="0.75" height="15.80" fill="#ffffff" opacity="0.6"/>
<rect x="172.041" y="43.8" width="0.45" height="15.80" fill="#000" opacity="0.3"/>
<rect x="173.504" y="28.3" width="0.75" height="15.50" fill="#ffffff" opacity="0.72"/>
<rect x="174.254" y="28.3" width="0.45" height="15.50" fill="#000" opacity="0.38"/>
<rect x="173.504" y="43.8" width="0.75" height="15.80" fill="#ffffff" opacity="0.6"/>
<rect x="174.254" y="43.8" width="0.45" height="15.80" fill="#000" opacity="0.3"/>
<rect x="175.717" y="28.3" width="0.75" height="15.50" fill="#ffffff" opacity="0.72"/>
<rect x="176.467" y="28.3" width="0.45" height="15.50" fill="#000" opacity="0.38"/>
<rect x="175.717" y="43.8" width="0.75" height="15.80" fill="#ffffff" opacity="0.6"/>
<rect x="176.467" y="43.8" width="0.45" height="15.80" fill="#000" opacity="0.3"/>
<rect x="177.930" y="28.3" width="0.75" height="15.50" fill="#ffffff" opacity="0.72"/>
<rect x="178.680" y="28.3" width="0.45" height="15.50" fill="#000" opacity="0.38"/>
<rect x="177.930" y="43.8" width="0.75" height="15.80" fill="#ffffff" opacity="0.6"/>
<rect x="178.680" y="43.8" width="0.45" height="15.80" fill="#000" opacity="0.3"/>
<rect x="180.143" y="28.3" width="0.75" height="15.50" fill="#ffffff" opacity="0.72"/>
<rect x="180.893" y="28.3" width="0.45" height="15.50" fill="#000" opacity="0.38"/>
<rect x="180.143" y="43.8" width="0.75" height="15.80" fill="#ffffff" opacity="0.6"/>
<rect x="180.893" y="43.8" width="0.45" height="15.80" fill="#000" opacity="0.3"/>
<rect x="182.356" y="28.3" width="0.75" height="15.50" fill="#ffffff" opacity="0.72"/>
<rect x="183.106" y="28.3" width="0.45" height="15.50" fill="#000" opacity="0.38"/>
<rect x="182.356" y="43.8" width="0.75" height="15.80" fill="#ffffff" opacity="0.6"/>
<rect x="183.106" y="43.8" width="0.45" height="15.80" fill="#000" opacity="0.3"/>
<rect x="184.569" y="28.3" width="0.75" height="15.50" fill="#ffffff" opacity="0.72"/>
<rect x="185.319" y="28.3" width="0.45" height="15.50" fill="#000" opacity="0.38"/>
<rect x="184.569" y="43.8" width="0.75" height="15.80" fill="#ffffff" opacity="0.6"/>
<rect x="185.319" y="43.8" width="0.45" height="15.80" fill="#000" opacity="0.3"/>
<rect x="186.782" y="28.3" width="0.75" height="15.50" fill="#ffffff" opacity="0.72"/>
<rect x="187.532" y="28.3" width="0.45" height="15.50" fill="#000" opacity="0.38"/>
<rect x="186.782" y="43.8" width="0.75" height="15.80" fill="#ffffff" opacity="0.6"/>
<rect x="187.532" y="43.8" width="0.45" height="15.80" fill="#000" opacity="0.3"/>
<rect x="188.995" y="28.3" width="0.75" height="15.50" fill="#ffffff" opacity="0.72"/>
<rect x="189.745" y="28.3" width="0.45" height="15.50" fill="#000" opacity="0.38"/>
<rect x="188.995" y="43.8" width="0.75" height="15.80" fill="#ffffff" opacity="0.6"/>
<rect x="189.745" y="43.8" width="0.45" height="15.80" fill="#000" opacity="0.3"/>
<rect x="191.208" y="28.3" width="0.75" height="15.50" fill="#ffffff" opacity="0.72"/>
<rect x="191.958" y="28.3" width="0.45" height="15.50" fill="#000" opacity="0.38"/>
<rect x="191.208" y="43.8" width="0.75" height="15.80" fill="#ffffff" opacity="0.6"/>
<rect x="191.958" y="43.8" width="0.45" height="15.80" fill="#000" opacity="0.3"/>
<rect x="193.421" y="28.3" width="0.75" height="15.50" fill="#ffffff" opacity="0.72"/>
<rect x="194.171" y="28.3" width="0.45" height="15.50" fill="#000" opacity="0.38"/>
<rect x="193.421" y="43.8" width="0.75" height="15.80" fill="#ffffff" opacity="0.6"/>
<rect x="194.171" y="43.8" width="0.45" height="15.80" fill="#000" opacity="0.3"/>
<rect x="195.634" y="28.3" width="0.75" height="15.50" fill="#ffffff" opacity="0.72"/>
<rect x="196.384" y="28.3" width="0.45" height="15.50" fill="#000" opacity="0.38"/>
<rect x="195.634" y="43.8" width="0.75" height="15.80" fill="#ffffff" opacity="0.6"/>
<rect x="196.384" y="43.8" width="0.45" height="15.80" fill="#000" opacity="0.3"/>
<rect x="197.847" y="28.3" width="0.75" height="15.50" fill="#ffffff" opacity="0.72"/>
<rect x="198.597" y="28.3" width="0.45" height="15.50" fill="#000" opacity="0.38"/>
<rect x="197.847" y="43.8" width="0.75" height="15.80" fill="#ffffff" opacity="0.6"/>
<rect x="198.597" y="43.8" width="0.45" height="15.80" fill="#000" opacity="0.3"/>
<rect x="200.060" y="28.3" width="0.75" height="15.50" fill="#ffffff" opacity="0.72"/>
<rect x="200.810" y="28.3" width="0.45" height="15.50" fill="#000" opacity="0.38"/>
<rect x="200.060" y="43.8" width="0.75" height="15.80" fill="#ffffff" opacity="0.6"/>
<rect x="200.810" y="43.8" width="0.45" height="15.80" fill="#000" opacity="0.3"/>
<rect x="202.273" y="28.3" width="0.75" height="15.50" fill="#ffffff" opacity="0.72"/>
<rect x="203.023" y="28.3" width="0.45" height="15.50" fill="#000" opacity="0.38"/>
<rect x="202.273" y="43.8" width="0.75" height="15.80" fill="#ffffff" opacity="0.6"/>
<rect x="203.023" y="43.8" width="0.45" height="15.80" fill="#000" opacity="0.3"/>
<rect x="204.486" y="28.3" width="0.75" height="15.50" fill="#ffffff" opacity="0.72"/>
<rect x="205.236" y="28.3" width="0.45" height="15.50" fill="#000" opacity="0.38"/>
<rect x="204.486" y="43.8" width="0.75" height="15.80" fill="#ffffff" opacity="0.6"/>
<rect x="205.236" y="43.8" width="0.45" height="15.80" fill="#000" opacity="0.3"/>
<rect x="206.699" y="28.3" width="0.75" height="15.50" fill="#ffffff" opacity="0.72"/>
<rect x="207.449" y="28.3" width="0.45" height="15.50" fill="#000" opacity="0.38"/>
<rect x="206.699" y="43.8" width="0.75" height="15.80" fill="#ffffff" opacity="0.6"/>
<rect x="207.449" y="43.8" width="0.45" height="15.80" fill="#000" opacity="0.3"/>
<rect x="208.912" y="28.3" width="0.75" height="15.50" fill="#ffffff" opacity="0.72"/>
<rect x="209.662" y="28.3" width="0.45" height="15.50" fill="#000" opacity="0.38"/>
<rect x="208.912" y="43.8" width="0.75" height="15.80" fill="#ffffff" opacity="0.6"/>
<rect x="209.662" y="43.8" width="0.45" height="15.80" fill="#000" opacity="0.3"/>
<rect x="211.125" y="28.3" width="0.75" height="15.50" fill="#ffffff" opacity="0.72"/>
<rect x="211.875" y="28.3" width="0.45" height="15.50" fill="#000" opacity="0.38"/>
<rect x="211.125" y="43.8" width="0.75" height="15.80" fill="#ffffff" opacity="0.6"/>
<rect x="211.875" y="43.8" width="0.45" height="15.80" fill="#000" opacity="0.3"/>
<rect x="213.338" y="28.3" width="0.75" height="15.50" fill="#ffffff" opacity="0.72"/>
<rect x="214.088" y="28.3" width="0.45" height="15.50" fill="#000" opacity="0.38"/>
<rect x="213.338" y="43.8" width="0.75" height="15.80" fill="#ffffff" opacity="0.6"/>
<rect x="214.088" y="43.8" width="0.45" height="15.80" fill="#000" opacity="0.3"/>
<rect x="215.551" y="28.3" width="0.75" height="15.50" fill="#ffffff" opacity="0.72"/>
<rect x="216.301" y="28.3" width="0.45" height="15.50" fill="#000" opacity="0.38"/>
<rect x="215.551" y="43.8" width="0.75" height="15.80" fill="#ffffff" opacity="0.6"/>
<rect x="216.301" y="43.8" width="0.45" height="15.80" fill="#000" opacity="0.3"/>
<rect x="217.764" y="28.3" width="0.75" height="15.50" fill="#ffffff" opacity="0.72"/>
<rect x="218.514" y="28.3" width="0.45" height="15.50" fill="#000" opacity="0.38"/>
<rect x="217.764" y="43.8" width="0.75" height="15.80" fill="#ffffff" opacity="0.6"/>
<rect x="218.514" y="43.8" width="0.45" height="15.80" fill="#000" opacity="0.3"/>
<rect x="219.977" y="28.3" width="0.75" height="15.50" fill="#ffffff" opacity="0.72"/>
<rect x="220.727" y="28.3" width="0.45" height="15.50" fill="#000" opacity="0.38"/>
<rect x="222.190" y="28.3" width="0.75" height="15.50" fill="#ffffff" opacity="0.72"/>
<rect x="222.940" y="28.3" width="0.45" height="15.50" fill="#000" opacity="0.38"/>
<rect x="222.190" y="43.8" width="0.8" height="15.80" fill="#ffffff" opacity="0.5"/>
<rect x="224.403" y="28.3" width="0.75" height="15.50" fill="#ffffff" opacity="0.72"/>
<rect x="225.153" y="28.3" width="0.45" height="15.50" fill="#000" opacity="0.38"/>
<rect x="224.403" y="43.8" width="0.8" height="15.80" fill="#ffffff" opacity="0.5"/>
<rect x="226.616" y="28.3" width="0.75" height="15.50" fill="#ffffff" opacity="0.72"/>
<rect x="227.366" y="28.3" width="0.45" height="15.50" fill="#000" opacity="0.38"/>
<rect x="226.616" y="43.8" width="0.8" height="15.80" fill="#ffffff" opacity="0.5"/>
<rect x="228.829" y="28.3" width="0.75" height="15.50" fill="#ffffff" opacity="0.72"/>
<rect x="229.579" y="28.3" width="0.45" height="15.50" fill="#000" opacity="0.38"/>
<rect x="228.829" y="43.8" width="0.8" height="15.80" fill="#ffffff" opacity="0.5"/>
<rect x="231.042" y="28.3" width="0.75" height="15.50" fill="#ffffff" opacity="0.72"/>
<rect x="231.792" y="28.3" width="0.45" height="15.50" fill="#000" opacity="0.38"/>
<rect x="231.042" y="43.8" width="0.8" height="15.80" fill="#ffffff" opacity="0.5"/>
<rect x="233.255" y="28.3" width="0.75" height="15.50" fill="#ffffff" opacity="0.72"/>
<rect x="234.005" y="28.3" width="0.45" height="15.50" fill="#000" opacity="0.38"/>
<rect x="233.255" y="43.8" width="0.8" height="15.80" fill="#ffffff" opacity="0.5"/>
<rect x="235.468" y="28.3" width="0.75" height="15.50" fill="#ffffff" opacity="0.72"/>
<rect x="236.218" y="28.3" width="0.45" height="15.50" fill="#000" opacity="0.38"/>
<rect x="235.468" y="43.8" width="0.8" height="15.80" fill="#ffffff" opacity="0.5"/>
<rect x="237.681" y="28.3" width="0.75" height="15.50" fill="#ffffff" opacity="0.72"/>
<rect x="238.431" y="28.3" width="0.45" height="15.50" fill="#000" opacity="0.38"/>
<rect x="237.681" y="43.8" width="0.8" height="15.80" fill="#ffffff" opacity="0.5"/>
<rect x="239.894" y="28.3" width="0.75" height="15.50" fill="#ffffff" opacity="0.72"/>
<rect x="240.644" y="28.3" width="0.45" height="15.50" fill="#000" opacity="0.38"/>
<rect x="239.894" y="43.8" width="0.8" height="15.80" fill="#ffffff" opacity="0.5"/>
<rect x="242.107" y="28.3" width="0.75" height="15.50" fill="#ffffff" opacity="0.72"/>
<rect x="242.857" y="28.3" width="0.45" height="15.50" fill="#000" opacity="0.38"/>
<rect x="242.107" y="43.8" width="0.8" height="15.80" fill="#ffffff" opacity="0.5"/>
<rect x="244.320" y="28.3" width="0.75" height="15.50" fill="#ffffff" opacity="0.72"/>
<rect x="245.070" y="28.3" width="0.45" height="15.50" fill="#000" opacity="0.38"/>
<rect x="244.320" y="43.8" width="0.8" height="15.80" fill="#ffffff" opacity="0.5"/>
<rect x="246.533" y="28.3" width="0.75" height="15.50" fill="#ffffff" opacity="0.72"/>
<rect x="247.283" y="28.3" width="0.45" height="15.50" fill="#000" opacity="0.38"/>
<rect x="246.533" y="43.8" width="0.8" height="15.80" fill="#ffffff" opacity="0.5"/>
<rect x="248.746" y="28.3" width="0.75" height="15.50" fill="#ffffff" opacity="0.72"/>
<rect x="249.496" y="28.3" width="0.45" height="15.50" fill="#000" opacity="0.38"/>
<rect x="248.746" y="43.8" width="0.8" height="15.80" fill="#ffffff" opacity="0.5"/>
<rect x="250.959" y="28.3" width="0.75" height="15.50" fill="#ffffff" opacity="0.72"/>
<rect x="251.709" y="28.3" width="0.45" height="15.50" fill="#000" opacity="0.38"/>
<rect x="250.959" y="43.8" width="0.8" height="15.80" fill="#ffffff" opacity="0.5"/>
<rect x="253.172" y="28.3" width="0.75" height="15.50" fill="#ffffff" opacity="0.72"/>
<rect x="253.922" y="28.3" width="0.45" height="15.50" fill="#000" opacity="0.38"/>
<rect x="253.172" y="43.8" width="0.8" height="15.80" fill="#ffffff" opacity="0.5"/>
<rect x="255.385" y="28.3" width="0.75" height="15.50" fill="#ffffff" opacity="0.72"/>
<rect x="256.135" y="28.3" width="0.45" height="15.50" fill="#000" opacity="0.38"/>
<rect x="255.385" y="43.8" width="0.8" height="15.80" fill="#ffffff" opacity="0.5"/>
<rect x="257.598" y="28.3" width="0.75" height="15.50" fill="#ffffff" opacity="0.72"/>
<rect x="258.348" y="28.3" width="0.45" height="15.50" fill="#000" opacity="0.38"/>
<rect x="257.598" y="43.8" width="0.8" height="15.80" fill="#ffffff" opacity="0.5"/>
<rect x="259.811" y="28.3" width="0.75" height="15.50" fill="#ffffff" opacity="0.72"/>
<rect x="260.561" y="28.3" width="0.45" height="15.50" fill="#000" opacity="0.38"/>
<rect x="259.811" y="43.8" width="0.8" height="15.80" fill="#ffffff" opacity="0.5"/>
<rect x="262.024" y="28.3" width="0.75" height="15.50" fill="#ffffff" opacity="0.72"/>
<rect x="262.774" y="28.3" width="0.45" height="15.50" fill="#000" opacity="0.38"/>
<rect x="262.024" y="43.8" width="0.8" height="15.80" fill="#ffffff" opacity="0.5"/>
<rect x="264.237" y="28.3" width="0.75" height="15.50" fill="#ffffff" opacity="0.72"/>
<rect x="264.987" y="28.3" width="0.45" height="15.50" fill="#000" opacity="0.38"/>
<rect x="264.237" y="43.8" width="0.8" height="15.80" fill="#ffffff" opacity="0.5"/>
<rect x="266.450" y="28.3" width="0.75" height="15.50" fill="#ffffff" opacity="0.72"/>
<rect x="267.200" y="28.3" width="0.45" height="15.50" fill="#000" opacity="0.38"/>
<rect x="266.450" y="43.8" width="0.8" height="15.80" fill="#ffffff" opacity="0.5"/>
<rect x="268.663" y="28.3" width="0.75" height="15.50" fill="#ffffff" opacity="0.72"/>
<rect x="269.413" y="28.3" width="0.45" height="15.50" fill="#000" opacity="0.38"/>
<rect x="268.663" y="43.8" width="0.8" height="15.80" fill="#ffffff" opacity="0.5"/>
<rect x="270.876" y="28.3" width="0.75" height="15.50" fill="#ffffff" opacity="0.72"/>
<rect x="271.626" y="28.3" width="0.45" height="15.50" fill="#000" opacity="0.38"/>
<rect x="270.876" y="43.8" width="0.8" height="15.80" fill="#ffffff" opacity="0.5"/>
<rect x="273.089" y="28.3" width="0.75" height="15.50" fill="#ffffff" opacity="0.72"/>
<rect x="273.839" y="28.3" width="0.45" height="15.50" fill="#000" opacity="0.38"/>
<rect x="273.089" y="43.8" width="0.8" height="15.80" fill="#ffffff" opacity="0.5"/>
<rect x="275.302" y="28.3" width="0.75" height="15.50" fill="#ffffff" opacity="0.72"/>
<rect x="276.052" y="28.3" width="0.45" height="15.50" fill="#000" opacity="0.38"/>
<rect x="275.302" y="43.8" width="0.8" height="15.80" fill="#ffffff" opacity="0.5"/>
<rect x="277.515" y="28.3" width="0.75" height="15.50" fill="#ffffff" opacity="0.72"/>
<rect x="278.265" y="28.3" width="0.45" height="15.50" fill="#000" opacity="0.38"/>
<rect x="277.515" y="43.8" width="0.8" height="15.80" fill="#ffffff" opacity="0.5"/>
<rect x="279.728" y="28.3" width="0.75" height="15.50" fill="#ffffff" opacity="0.72"/>
<rect x="280.478" y="28.3" width="0.45" height="15.50" fill="#000" opacity="0.38"/>
<rect x="279.728" y="43.8" width="0.8" height="15.80" fill="#ffffff" opacity="0.5"/>
<rect x="281.941" y="28.3" width="0.75" height="15.50" fill="#ffffff" opacity="0.72"/>
<rect x="282.691" y="28.3" width="0.45" height="15.50" fill="#000" opacity="0.38"/>
<rect x="281.941" y="43.8" width="0.8" height="15.80" fill="#ffffff" opacity="0.5"/>
<rect x="284.154" y="28.3" width="0.75" height="15.50" fill="#ffffff" opacity="0.72"/>
<rect x="284.904" y="28.3" width="0.45" height="15.50" fill="#000" opacity="0.38"/>
<rect x="284.154" y="43.8" width="0.8" height="15.80" fill="#ffffff" opacity="0.5"/>
<rect x="286.367" y="28.3" width="0.75" height="15.50" fill="#ffffff" opacity="0.72"/>
<rect x="287.117" y="28.3" width="0.45" height="15.50" fill="#000" opacity="0.38"/>
<rect x="286.367" y="43.8" width="0.8" height="15.80" fill="#ffffff" opacity="0.5"/>
<rect x="288.580" y="28.3" width="0.75" height="15.50" fill="#ffffff" opacity="0.72"/>
<rect x="289.330" y="28.3" width="0.45" height="15.50" fill="#000" opacity="0.38"/>
<rect x="288.580" y="43.8" width="0.8" height="15.80" fill="#ffffff" opacity="0.5"/>
<rect x="290.793" y="28.3" width="0.75" height="15.50" fill="#ffffff" opacity="0.72"/>
<rect x="291.543" y="28.3" width="0.45" height="15.50" fill="#000" opacity="0.38"/>
<rect x="290.793" y="43.8" width="0.8" height="15.80" fill="#ffffff" opacity="0.5"/>
<rect x="293.006" y="28.3" width="0.75" height="15.50" fill="#ffffff" opacity="0.72"/>
<rect x="293.756" y="28.3" width="0.45" height="15.50" fill="#000" opacity="0.38"/>
<rect x="293.006" y="43.8" width="0.8" height="15.80" fill="#ffffff" opacity="0.5"/>
<rect x="295.219" y="28.3" width="0.75" height="15.50" fill="#ffffff" opacity="0.72"/>
<rect x="295.969" y="28.3" width="0.45" height="15.50" fill="#000" opacity="0.38"/>
<rect x="295.219" y="43.8" width="0.8" height="15.80" fill="#ffffff" opacity="0.5"/>
<rect x="297.432" y="28.3" width="0.75" height="15.50" fill="#ffffff" opacity="0.72"/>
<rect x="298.182" y="28.3" width="0.45" height="15.50" fill="#000" opacity="0.38"/>
<rect x="297.432" y="43.8" width="0.8" height="15.80" fill="#ffffff" opacity="0.5"/>
<rect x="299.645" y="28.3" width="0.75" height="15.50" fill="#ffffff" opacity="0.72"/>
<rect x="300.395" y="28.3" width="0.45" height="15.50" fill="#000" opacity="0.38"/>
<rect x="299.645" y="43.8" width="0.8" height="15.80" fill="#ffffff" opacity="0.5"/>
<rect x="301.858" y="28.3" width="0.75" height="15.50" fill="#ffffff" opacity="0.72"/>
<rect x="302.608" y="28.3" width="0.45" height="15.50" fill="#000" opacity="0.38"/>
<rect x="301.858" y="43.8" width="0.8" height="15.80" fill="#ffffff" opacity="0.5"/>
<rect x="304.071" y="28.3" width="0.75" height="15.50" fill="#ffffff" opacity="0.72"/>
<rect x="304.821" y="28.3" width="0.45" height="15.50" fill="#000" opacity="0.38"/>
<rect x="304.071" y="43.8" width="0.8" height="15.80" fill="#ffffff" opacity="0.5"/>
<rect x="306.284" y="28.3" width="0.75" height="15.50" fill="#ffffff" opacity="0.72"/>
<rect x="307.034" y="28.3" width="0.45" height="15.50" fill="#000" opacity="0.38"/>
<rect x="308.497" y="28.3" width="0.75" height="15.50" fill="#ffffff" opacity="0.72"/>
<rect x="309.247" y="28.3" width="0.45" height="15.50" fill="#000" opacity="0.38"/>
<rect x="308.497" y="43.8" width="0.8" height="15.80" fill="#ffffff" opacity="0.5"/>
<rect x="310.710" y="28.3" width="0.75" height="15.50" fill="#ffffff" opacity="0.72"/>
<rect x="311.460" y="28.3" width="0.45" height="15.50" fill="#000" opacity="0.38"/>
<rect x="310.710" y="43.8" width="0.8" height="15.80" fill="#ffffff" opacity="0.5"/>
<rect x="312.923" y="28.3" width="0.75" height="15.50" fill="#ffffff" opacity="0.72"/>
<rect x="313.673" y="28.3" width="0.45" height="15.50" fill="#000" opacity="0.38"/>
<rect x="312.923" y="43.8" width="0.8" height="15.80" fill="#ffffff" opacity="0.5"/>
<rect x="315.136" y="28.3" width="0.75" height="15.50" fill="#ffffff" opacity="0.72"/>
<rect x="315.886" y="28.3" width="0.45" height="15.50" fill="#000" opacity="0.38"/>
<rect x="315.136" y="43.8" width="0.8" height="15.80" fill="#ffffff" opacity="0.5"/>
<rect x="317.349" y="28.3" width="0.75" height="15.50" fill="#ffffff" opacity="0.72"/>
<rect x="318.099" y="28.3" width="0.45" height="15.50" fill="#000" opacity="0.38"/>
<rect x="317.349" y="43.8" width="0.8" height="15.80" fill="#ffffff" opacity="0.5"/>
<rect x="319.562" y="28.3" width="0.75" height="15.50" fill="#ffffff" opacity="0.72"/>
<rect x="320.312" y="28.3" width="0.45" height="15.50" fill="#000" opacity="0.38"/>
<rect x="319.562" y="43.8" width="0.8" height="15.80" fill="#ffffff" opacity="0.5"/>
<rect x="321.775" y="28.3" width="0.75" height="15.50" fill="#ffffff" opacity="0.72"/>
<rect x="322.525" y="28.3" width="0.45" height="15.50" fill="#000" opacity="0.38"/>
<rect x="321.775" y="43.8" width="0.8" height="15.80" fill="#ffffff" opacity="0.5"/>
<rect x="323.988" y="28.3" width="0.75" height="15.50" fill="#ffffff" opacity="0.72"/>
<rect x="324.738" y="28.3" width="0.45" height="15.50" fill="#000" opacity="0.38"/>
<rect x="323.988" y="43.8" width="0.8" height="15.80" fill="#ffffff" opacity="0.5"/>
<rect x="326.201" y="28.3" width="0.75" height="15.50" fill="#ffffff" opacity="0.72"/>
<rect x="326.951" y="28.3" width="0.45" height="15.50" fill="#000" opacity="0.38"/>
<rect x="326.201" y="43.8" width="0.8" height="15.80" fill="#ffffff" opacity="0.5"/>
<rect x="328.414" y="28.3" width="0.75" height="15.50" fill="#ffffff" opacity="0.72"/>
<rect x="329.164" y="28.3" width="0.45" height="15.50" fill="#000" opacity="0.38"/>
<rect x="328.414" y="43.8" width="0.8" height="15.80" fill="#ffffff" opacity="0.5"/>
<rect x="330.627" y="28.3" width="0.75" height="15.50" fill="#ffffff" opacity="0.72"/>
<rect x="331.377" y="28.3" width="0.45" height="15.50" fill="#000" opacity="0.38"/>
<rect x="330.627" y="43.8" width="0.8" height="15.80" fill="#ffffff" opacity="0.5"/>
<rect x="332.840" y="28.3" width="0.75" height="15.50" fill="#ffffff" opacity="0.72"/>
<rect x="333.590" y="28.3" width="0.45" height="15.50" fill="#000" opacity="0.38"/>
<rect x="332.840" y="43.8" width="0.8" height="15.80" fill="#ffffff" opacity="0.5"/>
<rect x="335.053" y="28.3" width="0.75" height="15.50" fill="#ffffff" opacity="0.72"/>
<rect x="335.803" y="28.3" width="0.45" height="15.50" fill="#000" opacity="0.38"/>
<rect x="335.053" y="43.8" width="0.8" height="15.80" fill="#ffffff" opacity="0.5"/>
<rect x="337.266" y="28.3" width="0.75" height="15.50" fill="#ffffff" opacity="0.72"/>
<rect x="338.016" y="28.3" width="0.45" height="15.50" fill="#000" opacity="0.38"/>
<rect x="337.266" y="43.8" width="0.8" height="15.80" fill="#ffffff" opacity="0.5"/>
<rect x="339.479" y="28.3" width="0.75" height="15.50" fill="#ffffff" opacity="0.72"/>
<rect x="340.229" y="28.3" width="0.45" height="15.50" fill="#000" opacity="0.38"/>
<rect x="339.479" y="43.8" width="0.8" height="15.80" fill="#ffffff" opacity="0.5"/>
<rect x="341.692" y="28.3" width="0.75" height="15.50" fill="#ffffff" opacity="0.72"/>
<rect x="342.442" y="28.3" width="0.45" height="15.50" fill="#000" opacity="0.38"/>
<rect x="341.692" y="43.8" width="0.8" height="15.80" fill="#ffffff" opacity="0.5"/>
<rect x="343.905" y="28.3" width="0.75" height="15.50" fill="#ffffff" opacity="0.72"/>
<rect x="344.655" y="28.3" width="0.45" height="15.50" fill="#000" opacity="0.38"/>
<rect x="343.905" y="43.8" width="0.8" height="15.80" fill="#ffffff" opacity="0.5"/>
<rect x="346.118" y="28.3" width="0.75" height="15.50" fill="#ffffff" opacity="0.72"/>
<rect x="346.868" y="28.3" width="0.45" height="15.50" fill="#000" opacity="0.38"/>
<rect x="346.118" y="43.8" width="0.8" height="15.80" fill="#ffffff" opacity="0.5"/>
<rect x="348.331" y="28.3" width="0.75" height="15.50" fill="#ffffff" opacity="0.72"/>
<rect x="349.081" y="28.3" width="0.45" height="15.50" fill="#000" opacity="0.38"/>
<rect x="348.331" y="43.8" width="0.8" height="15.80" fill="#ffffff" opacity="0.5"/>
<rect x="350.544" y="28.3" width="0.75" height="15.50" fill="#ffffff" opacity="0.72"/>
<rect x="351.294" y="28.3" width="0.45" height="15.50" fill="#000" opacity="0.38"/>
<rect x="350.544" y="43.8" width="0.8" height="15.80" fill="#ffffff" opacity="0.5"/>
<rect x="352.757" y="28.3" width="0.75" height="15.50" fill="#ffffff" opacity="0.72"/>
<rect x="353.507" y="28.3" width="0.45" height="15.50" fill="#000" opacity="0.38"/>
<rect x="352.757" y="43.8" width="0.8" height="15.80" fill="#ffffff" opacity="0.5"/>
<rect x="354.970" y="28.3" width="0.75" height="15.50" fill="#ffffff" opacity="0.72"/>
<rect x="355.720" y="28.3" width="0.45" height="15.50" fill="#000" opacity="0.38"/>
<rect x="354.970" y="43.8" width="0.8" height="15.80" fill="#ffffff" opacity="0.5"/>
<rect x="357.183" y="28.3" width="0.75" height="15.50" fill="#ffffff" opacity="0.72"/>
<rect x="357.933" y="28.3" width="0.45" height="15.50" fill="#000" opacity="0.38"/>
<rect x="359.396" y="28.3" width="0.75" height="15.50" fill="#ffffff" opacity="0.72"/>
<rect x="360.146" y="28.3" width="0.45" height="15.50" fill="#000" opacity="0.38"/>
<rect x="359.396" y="43.8" width="0.8" height="15.80" fill="#ffffff" opacity="0.5"/>
<rect x="361.609" y="28.3" width="0.75" height="15.50" fill="#ffffff" opacity="0.72"/>
<rect x="362.359" y="28.3" width="0.45" height="15.50" fill="#000" opacity="0.38"/>
<rect x="361.609" y="43.8" width="0.8" height="15.80" fill="#ffffff" opacity="0.5"/>
<rect x="363.822" y="28.3" width="0.75" height="15.50" fill="#ffffff" opacity="0.72"/>
<rect x="364.572" y="28.3" width="0.45" height="15.50" fill="#000" opacity="0.38"/>
<rect x="363.822" y="43.8" width="0.8" height="15.80" fill="#ffffff" opacity="0.5"/>
<rect x="366.035" y="28.3" width="0.75" height="15.50" fill="#ffffff" opacity="0.72"/>
<rect x="366.785" y="28.3" width="0.45" height="15.50" fill="#000" opacity="0.38"/>
<rect x="366.035" y="43.8" width="0.8" height="15.80" fill="#ffffff" opacity="0.5"/>
<rect x="368.248" y="28.3" width="0.75" height="15.50" fill="#ffffff" opacity="0.72"/>
<rect x="368.998" y="28.3" width="0.45" height="15.50" fill="#000" opacity="0.38"/>
<rect x="368.248" y="43.8" width="0.8" height="15.80" fill="#ffffff" opacity="0.5"/>
<rect x="370.461" y="28.3" width="0.75" height="15.50" fill="#ffffff" opacity="0.72"/>
<rect x="371.211" y="28.3" width="0.45" height="15.50" fill="#000" opacity="0.38"/>
<rect x="370.461" y="43.8" width="0.8" height="15.80" fill="#ffffff" opacity="0.5"/>
<rect x="372.674" y="28.3" width="0.75" height="15.50" fill="#ffffff" opacity="0.72"/>
<rect x="373.424" y="28.3" width="0.45" height="15.50" fill="#000" opacity="0.38"/>
<rect x="374.887" y="28.3" width="0.75" height="15.50" fill="#ffffff" opacity="0.72"/>
<rect x="375.637" y="28.3" width="0.45" height="15.50" fill="#000" opacity="0.38"/>
<rect x="374.887" y="43.8" width="0.8" height="15.80" fill="#ffffff" opacity="0.5"/>
<rect x="377.100" y="28.3" width="0.75" height="15.50" fill="#ffffff" opacity="0.72"/>
<rect x="377.850" y="28.3" width="0.45" height="15.50" fill="#000" opacity="0.38"/>
<rect x="377.100" y="43.8" width="0.8" height="15.80" fill="#ffffff" opacity="0.5"/>
<rect x="379.313" y="28.3" width="0.75" height="15.50" fill="#ffffff" opacity="0.72"/>
<rect x="380.063" y="28.3" width="0.45" height="15.50" fill="#000" opacity="0.38"/>
<rect x="379.313" y="43.8" width="0.8" height="15.80" fill="#ffffff" opacity="0.5"/>
<rect x="381.526" y="28.3" width="0.75" height="15.50" fill="#ffffff" opacity="0.72"/>
<rect x="382.276" y="28.3" width="0.45" height="15.50" fill="#000" opacity="0.38"/>
<rect x="381.526" y="43.8" width="0.8" height="15.80" fill="#ffffff" opacity="0.5"/>
<rect x="383.739" y="28.3" width="0.75" height="15.50" fill="#ffffff" opacity="0.72"/>
<rect x="384.489" y="28.3" width="0.45" height="15.50" fill="#000" opacity="0.38"/>
<rect x="385.952" y="28.3" width="0.75" height="15.50" fill="#ffffff" opacity="0.72"/>
<rect x="386.702" y="28.3" width="0.45" height="15.50" fill="#000" opacity="0.38"/>
<rect x="385.952" y="43.8" width="0.8" height="15.80" fill="#ffffff" opacity="0.5"/>
<rect x="45.600" y="28.3" width="343.015" height="31.30" fill="none" stroke="#222" stroke-width="0.9"/>
<line x1="45.600" y1="43.8" x2="388.615" y2="43.8" stroke="#333" stroke-width="0.4"/>
<rect x="393.500" y="28.3" width="2.192" height="15.50" fill="#a6a6a6"/>
<rect x="393.500" y="43.8" width="2.192" height="15.80" fill="#d2d2d2"/>
<rect x="395.672" y="28.3" width="2.192" height="15.50" fill="#a6a6a6"/>
<rect x="395.672" y="43.8" width="2.192" height="15.80" fill="#d2d2d2"/>
<rect x="397.844" y="28.3" width="2.192" height="15.50" fill="#a6a6a6"/>
<rect x="397.844" y="43.8" width="2.192" height="15.80" fill="#d2d2d2"/>
<rect x="400.016" y="28.3" width="2.192" height="15.50" fill="#a6a6a6"/>
<rect x="400.016" y="43.8" width="2.192" height="15.80" fill="#d2d2d2"/>
<rect x="402.188" y="28.3" width="2.192" height="15.50" fill="#a6a6a6"/>
<rect x="402.188" y="43.8" width="2.192" height="15.80" fill="#d2d2d2"/>
<rect x="404.360" y="28.3" width="2.192" height="15.50" fill="#a6a6a6"/>
<rect x="404.360" y="43.8" width="2.192" height="15.80" fill="#d2d2d2"/>
<rect x="406.532" y="28.3" width="2.192" height="15.50" fill="#a6a6a6"/>
<rect x="406.532" y="43.8" width="2.192" height="15.80" fill="#d2d2d2"/>
<rect x="408.704" y="28.3" width="2.192" height="15.50" fill="#a6a6a6"/>
<rect x="408.704" y="43.8" width="2.192" height="15.80" fill="#d2d2d2"/>
<rect x="410.876" y="28.3" width="2.192" height="15.50" fill="#a6a6a6"/>
<rect x="410.876" y="43.8" width="2.192" height="15.80" fill="#d2d2d2"/>
<rect x="413.048" y="28.3" width="2.192" height="15.50" fill="#a6a6a6"/>
<rect x="413.048" y="43.8" width="2.192" height="15.80" fill="#d2d2d2"/>
<rect x="415.220" y="28.3" width="2.192" height="15.50" fill="#a6a6a6"/>
<rect x="415.220" y="43.8" width="2.192" height="15.80" fill="#d2d2d2"/>
<rect x="417.392" y="28.3" width="2.192" height="15.50" fill="#a6a6a6"/>
<rect x="417.392" y="43.8" width="2.192" height="15.80" fill="#d2d2d2"/>
<rect x="419.564" y="28.3" width="2.192" height="15.50" fill="#a6a6a6"/>
<rect x="419.564" y="43.8" width="2.192" height="15.80" fill="#d2d2d2"/>
<rect x="421.736" y="28.3" width="2.192" height="15.50" fill="#a6a6a6"/>
<rect x="421.736" y="43.8" width="2.192" height="15.80" fill="#d2d2d2"/>
<rect x="423.908" y="28.3" width="2.192" height="15.50" fill="#a6a6a6"/>
<rect x="423.908" y="43.8" width="2.192" height="15.80" fill="#d2d2d2"/>
<rect x="426.080" y="28.3" width="2.192" height="15.50" fill="#a6a6a6"/>
<rect x="426.080" y="43.8" width="2.192" height="15.80" fill="#d2d2d2"/>
<rect x="428.252" y="28.3" width="2.192" height="15.50" fill="#a6a6a6"/>
<rect x="428.252" y="43.8" width="2.192" height="15.80" fill="#d2d2d2"/>
<rect x="430.424" y="28.3" width="2.192" height="15.50" fill="#a6a6a6"/>
<rect x="430.424" y="43.8" width="2.192" height="15.80" fill="#d2d2d2"/>
<rect x="432.596" y="28.3" width="2.192" height="15.50" fill="#a6a6a6"/>
<rect x="432.596" y="43.8" width="2.192" height="15.80" fill="#d2d2d2"/>
<rect x="434.768" y="28.3" width="2.192" height="15.50" fill="#a6a6a6"/>
<rect x="434.768" y="43.8" width="2.192" height="15.80" fill="#d2d2d2"/>
<rect x="436.940" y="28.3" width="2.192" height="15.50" fill="#a6a6a6"/>
<rect x="436.940" y="43.8" width="2.192" height="15.80" fill="#d2d2d2"/>
<rect x="439.112" y="28.3" width="2.192" height="15.50" fill="#a6a6a6"/>
<rect x="439.112" y="43.8" width="2.192" height="15.80" fill="#d2d2d2"/>
<rect x="441.284" y="28.3" width="2.192" height="15.50" fill="#a6a6a6"/>
<rect x="441.284" y="43.8" width="2.192" height="15.80" fill="#d2d2d2"/>
<rect x="443.456" y="28.3" width="2.192" height="15.50" fill="#a6a6a6"/>
<rect x="443.456" y="43.8" width="2.192" height="15.80" fill="#d2d2d2"/>
<rect x="445.628" y="28.3" width="2.192" height="15.50" fill="#a6a6a6"/>
<rect x="445.628" y="43.8" width="2.192" height="15.80" fill="#d2d2d2"/>
<rect x="447.800" y="28.3" width="2.192" height="15.50" fill="#a6a6a6"/>
<rect x="447.800" y="43.8" width="2.192" height="15.80" fill="#d2d2d2"/>
<rect x="449.972" y="28.3" width="2.192" height="15.50" fill="#a6a6a6"/>
<rect x="449.972" y="43.8" width="2.192" height="15.80" fill="#d2d2d2"/>
<rect x="452.144" y="28.3" width="2.192" height="15.50" fill="#a6a6a6"/>
<rect x="452.144" y="43.8" width="2.192" height="15.80" fill="#d2d2d2"/>
<rect x="454.316" y="28.3" width="2.192" height="15.50" fill="#a6a6a6"/>
<rect x="454.316" y="43.8" width="2.192" height="15.80" fill="#d2d2d2"/>
<rect x="395.222" y="28.3" width="0.75" height="15.50" fill="#ffffff" opacity="0.72"/>
<rect x="395.972" y="28.3" width="0.45" height="15.50" fill="#000" opacity="0.38"/>
<rect x="395.222" y="43.8" width="0.75" height="15.80" fill="#ffffff" opacity="0.8"/>
<rect x="395.972" y="43.8" width="0.45" height="15.80" fill="#000" opacity="0.25"/>
<rect x="397.394" y="28.3" width="0.75" height="15.50" fill="#ffffff" opacity="0.72"/>
<rect x="398.144" y="28.3" width="0.45" height="15.50" fill="#000" opacity="0.38"/>
<rect x="397.394" y="43.8" width="0.75" height="15.80" fill="#ffffff" opacity="0.8"/>
<rect x="398.144" y="43.8" width="0.45" height="15.80" fill="#000" opacity="0.25"/>
<rect x="399.566" y="28.3" width="0.75" height="15.50" fill="#ffffff" opacity="0.72"/>
<rect x="400.316" y="28.3" width="0.45" height="15.50" fill="#000" opacity="0.38"/>
<rect x="399.566" y="43.8" width="0.75" height="15.80" fill="#ffffff" opacity="0.8"/>
<rect x="400.316" y="43.8" width="0.45" height="15.80" fill="#000" opacity="0.25"/>
<rect x="401.738" y="28.3" width="0.75" height="15.50" fill="#ffffff" opacity="0.72"/>
<rect x="402.488" y="28.3" width="0.45" height="15.50" fill="#000" opacity="0.38"/>
<rect x="401.738" y="43.8" width="0.75" height="15.80" fill="#ffffff" opacity="0.8"/>
<rect x="402.488" y="43.8" width="0.45" height="15.80" fill="#000" opacity="0.25"/>
<rect x="403.910" y="28.3" width="0.75" height="15.50" fill="#ffffff" opacity="0.72"/>
<rect x="404.660" y="28.3" width="0.45" height="15.50" fill="#000" opacity="0.38"/>
<rect x="403.910" y="43.8" width="0.75" height="15.80" fill="#ffffff" opacity="0.8"/>
<rect x="404.660" y="43.8" width="0.45" height="15.80" fill="#000" opacity="0.25"/>
<rect x="406.082" y="28.3" width="0.75" height="15.50" fill="#ffffff" opacity="0.72"/>
<rect x="406.832" y="28.3" width="0.45" height="15.50" fill="#000" opacity="0.38"/>
<rect x="406.082" y="43.8" width="0.75" height="15.80" fill="#ffffff" opacity="0.8"/>
<rect x="406.832" y="43.8" width="0.45" height="15.80" fill="#000" opacity="0.25"/>
<rect x="408.254" y="28.3" width="0.75" height="15.50" fill="#ffffff" opacity="0.72"/>
<rect x="409.004" y="28.3" width="0.45" height="15.50" fill="#000" opacity="0.38"/>
<rect x="408.254" y="43.8" width="0.75" height="15.80" fill="#ffffff" opacity="0.8"/>
<rect x="409.004" y="43.8" width="0.45" height="15.80" fill="#000" opacity="0.25"/>
<rect x="410.426" y="28.3" width="0.75" height="15.50" fill="#ffffff" opacity="0.72"/>
<rect x="411.176" y="28.3" width="0.45" height="15.50" fill="#000" opacity="0.38"/>
<rect x="410.426" y="43.8" width="0.75" height="15.80" fill="#ffffff" opacity="0.8"/>
<rect x="411.176" y="43.8" width="0.45" height="15.80" fill="#000" opacity="0.25"/>
<rect x="412.598" y="28.3" width="0.75" height="15.50" fill="#ffffff" opacity="0.72"/>
<rect x="413.348" y="28.3" width="0.45" height="15.50" fill="#000" opacity="0.38"/>
<rect x="412.598" y="43.8" width="0.75" height="15.80" fill="#ffffff" opacity="0.8"/>
<rect x="413.348" y="43.8" width="0.45" height="15.80" fill="#000" opacity="0.25"/>
<rect x="414.770" y="28.3" width="0.75" height="15.50" fill="#ffffff" opacity="0.72"/>
<rect x="415.520" y="28.3" width="0.45" height="15.50" fill="#000" opacity="0.38"/>
<rect x="414.770" y="43.8" width="0.75" height="15.80" fill="#ffffff" opacity="0.8"/>
<rect x="415.520" y="43.8" width="0.45" height="15.80" fill="#000" opacity="0.25"/>
<rect x="416.942" y="28.3" width="0.75" height="15.50" fill="#ffffff" opacity="0.72"/>
<rect x="417.692" y="28.3" width="0.45" height="15.50" fill="#000" opacity="0.38"/>
<rect x="416.942" y="43.8" width="0.75" height="15.80" fill="#ffffff" opacity="0.8"/>
<rect x="417.692" y="43.8" width="0.45" height="15.80" fill="#000" opacity="0.25"/>
<rect x="419.114" y="28.3" width="0.75" height="15.50" fill="#ffffff" opacity="0.72"/>
<rect x="419.864" y="28.3" width="0.45" height="15.50" fill="#000" opacity="0.38"/>
<rect x="419.114" y="43.8" width="0.75" height="15.80" fill="#ffffff" opacity="0.8"/>
<rect x="419.864" y="43.8" width="0.45" height="15.80" fill="#000" opacity="0.25"/>
<rect x="421.286" y="28.3" width="0.75" height="15.50" fill="#ffffff" opacity="0.72"/>
<rect x="422.036" y="28.3" width="0.45" height="15.50" fill="#000" opacity="0.38"/>
<rect x="421.286" y="43.8" width="0.75" height="15.80" fill="#ffffff" opacity="0.8"/>
<rect x="422.036" y="43.8" width="0.45" height="15.80" fill="#000" opacity="0.25"/>
<rect x="423.458" y="28.3" width="0.75" height="15.50" fill="#ffffff" opacity="0.72"/>
<rect x="424.208" y="28.3" width="0.45" height="15.50" fill="#000" opacity="0.38"/>
<rect x="423.458" y="43.8" width="0.75" height="15.80" fill="#ffffff" opacity="0.8"/>
<rect x="424.208" y="43.8" width="0.45" height="15.80" fill="#000" opacity="0.25"/>
<rect x="425.630" y="28.3" width="0.75" height="15.50" fill="#ffffff" opacity="0.72"/>
<rect x="426.380" y="28.3" width="0.45" height="15.50" fill="#000" opacity="0.38"/>
<rect x="425.630" y="43.8" width="0.75" height="15.80" fill="#ffffff" opacity="0.8"/>
<rect x="426.380" y="43.8" width="0.45" height="15.80" fill="#000" opacity="0.25"/>
<rect x="427.802" y="28.3" width="0.75" height="15.50" fill="#ffffff" opacity="0.72"/>
<rect x="428.552" y="28.3" width="0.45" height="15.50" fill="#000" opacity="0.38"/>
<rect x="427.802" y="43.8" width="0.75" height="15.80" fill="#ffffff" opacity="0.8"/>
<rect x="428.552" y="43.8" width="0.45" height="15.80" fill="#000" opacity="0.25"/>
<rect x="429.974" y="28.3" width="0.75" height="15.50" fill="#ffffff" opacity="0.72"/>
<rect x="430.724" y="28.3" width="0.45" height="15.50" fill="#000" opacity="0.38"/>
<rect x="429.974" y="43.8" width="0.75" height="15.80" fill="#ffffff" opacity="0.8"/>
<rect x="430.724" y="43.8" width="0.45" height="15.80" fill="#000" opacity="0.25"/>
<rect x="432.146" y="28.3" width="0.75" height="15.50" fill="#ffffff" opacity="0.72"/>
<rect x="432.896" y="28.3" width="0.45" height="15.50" fill="#000" opacity="0.38"/>
<rect x="432.146" y="43.8" width="0.75" height="15.80" fill="#ffffff" opacity="0.8"/>
<rect x="432.896" y="43.8" width="0.45" height="15.80" fill="#000" opacity="0.25"/>
<rect x="434.318" y="28.3" width="0.75" height="15.50" fill="#ffffff" opacity="0.72"/>
<rect x="435.068" y="28.3" width="0.45" height="15.50" fill="#000" opacity="0.38"/>
<rect x="434.318" y="43.8" width="0.75" height="15.80" fill="#ffffff" opacity="0.8"/>
<rect x="435.068" y="43.8" width="0.45" height="15.80" fill="#000" opacity="0.25"/>
<rect x="436.490" y="28.3" width="0.75" height="15.50" fill="#ffffff" opacity="0.72"/>
<rect x="437.240" y="28.3" width="0.45" height="15.50" fill="#000" opacity="0.38"/>
<rect x="436.490" y="43.8" width="0.75" height="15.80" fill="#ffffff" opacity="0.8"/>
<rect x="437.240" y="43.8" width="0.45" height="15.80" fill="#000" opacity="0.25"/>
<rect x="438.662" y="28.3" width="0.75" height="15.50" fill="#ffffff" opacity="0.72"/>
<rect x="439.412" y="28.3" width="0.45" height="15.50" fill="#000" opacity="0.38"/>
<rect x="438.662" y="43.8" width="0.75" height="15.80" fill="#ffffff" opacity="0.8"/>
<rect x="439.412" y="43.8" width="0.45" height="15.80" fill="#000" opacity="0.25"/>
<rect x="440.834" y="28.3" width="0.75" height="15.50" fill="#ffffff" opacity="0.72"/>
<rect x="441.584" y="28.3" width="0.45" height="15.50" fill="#000" opacity="0.38"/>
<rect x="440.834" y="43.8" width="0.75" height="15.80" fill="#ffffff" opacity="0.8"/>
<rect x="441.584" y="43.8" width="0.45" height="15.80" fill="#000" opacity="0.25"/>
<rect x="443.006" y="28.3" width="0.75" height="15.50" fill="#ffffff" opacity="0.72"/>
<rect x="443.756" y="28.3" width="0.45" height="15.50" fill="#000" opacity="0.38"/>
<rect x="443.006" y="43.8" width="0.75" height="15.80" fill="#ffffff" opacity="0.8"/>
<rect x="443.756" y="43.8" width="0.45" height="15.80" fill="#000" opacity="0.25"/>
<rect x="445.178" y="28.3" width="0.75" height="15.50" fill="#ffffff" opacity="0.72"/>
<rect x="445.928" y="28.3" width="0.45" height="15.50" fill="#000" opacity="0.38"/>
<rect x="445.178" y="43.8" width="0.75" height="15.80" fill="#ffffff" opacity="0.8"/>
<rect x="445.928" y="43.8" width="0.45" height="15.80" fill="#000" opacity="0.25"/>
<rect x="447.350" y="28.3" width="0.75" height="15.50" fill="#ffffff" opacity="0.72"/>
<rect x="448.100" y="28.3" width="0.45" height="15.50" fill="#000" opacity="0.38"/>
<rect x="447.350" y="43.8" width="0.75" height="15.80" fill="#ffffff" opacity="0.8"/>
<rect x="448.100" y="43.8" width="0.45" height="15.80" fill="#000" opacity="0.25"/>
<rect x="449.522" y="28.3" width="0.75" height="15.50" fill="#ffffff" opacity="0.72"/>
<rect x="450.272" y="28.3" width="0.45" height="15.50" fill="#000" opacity="0.38"/>
<rect x="449.522" y="43.8" width="0.75" height="15.80" fill="#ffffff" opacity="0.8"/>
<rect x="450.272" y="43.8" width="0.45" height="15.80" fill="#000" opacity="0.25"/>
<rect x="451.694" y="28.3" width="0.75" height="15.50" fill="#ffffff" opacity="0.72"/>
<rect x="452.444" y="28.3" width="0.45" height="15.50" fill="#000" opacity="0.38"/>
<rect x="451.694" y="43.8" width="0.75" height="15.80" fill="#ffffff" opacity="0.8"/>
<rect x="452.444" y="43.8" width="0.45" height="15.80" fill="#000" opacity="0.25"/>
<rect x="453.866" y="28.3" width="0.75" height="15.50" fill="#ffffff" opacity="0.72"/>
<rect x="454.616" y="28.3" width="0.45" height="15.50" fill="#000" opacity="0.38"/>
<rect x="453.866" y="43.8" width="0.75" height="15.80" fill="#ffffff" opacity="0.8"/>
<rect x="454.616" y="43.8" width="0.45" height="15.80" fill="#000" opacity="0.25"/>
<rect x="393.500" y="28.3" width="62.988" height="31.30" fill="none" stroke="#222" stroke-width="0.9"/>
<line x1="393.500" y1="43.8" x2="456.488" y2="43.8" stroke="#333" stroke-width="0.4"/>
<rect x="461.000" y="28.3" width="2.220" height="15.50" fill="#5e371b"/>
<rect x="461.000" y="43.8" width="2.220" height="15.80" fill="#f7a21d"/>
<rect x="463.200" y="28.3" width="2.220" height="15.50" fill="#5e371b"/>
<rect x="463.200" y="43.8" width="2.220" height="15.80" fill="#f7a21d"/>
<rect x="465.400" y="28.3" width="2.220" height="15.50" fill="#5e371b"/>
<rect x="465.400" y="43.8" width="2.220" height="15.80" fill="#f7a21d"/>
<rect x="467.600" y="28.3" width="2.220" height="15.50" fill="#5e371b"/>
<rect x="467.600" y="43.8" width="2.220" height="15.80" fill="#f7a21d"/>
<rect x="469.800" y="28.3" width="2.220" height="15.50" fill="#5e371b"/>
<rect x="469.800" y="43.8" width="2.220" height="15.80" fill="#f7a21d"/>
<rect x="472.000" y="28.3" width="2.220" height="15.50" fill="#5e371b"/>
<rect x="472.000" y="43.8" width="2.220" height="15.80" fill="#f7a21d"/>
<rect x="474.200" y="28.3" width="2.220" height="15.50" fill="#5e371b"/>
<rect x="474.200" y="43.8" width="2.220" height="15.80" fill="#f7a21d"/>
<rect x="476.400" y="28.3" width="2.220" height="15.50" fill="#5e371b"/>
<rect x="476.400" y="43.8" width="2.220" height="15.80" fill="#5ab2da"/>
<rect x="478.600" y="28.3" width="2.220" height="15.50" fill="#5e371b"/>
<rect x="478.600" y="43.8" width="2.220" height="15.80" fill="#d9a878"/>
<rect x="480.800" y="28.3" width="2.220" height="15.50" fill="#5e371b"/>
<rect x="480.800" y="43.8" width="2.220" height="15.80" fill="#d9a878"/>
<rect x="462.750" y="28.3" width="0.75" height="15.50" fill="#ffffff" opacity="0.72"/>
<rect x="463.500" y="28.3" width="0.45" height="15.50" fill="#000" opacity="0.38"/>
<rect x="463.000" y="43.8" width="0.6" height="15.80" fill="#3a2a1a" opacity="0.55"/>
<rect x="464.950" y="28.3" width="0.75" height="15.50" fill="#ffffff" opacity="0.72"/>
<rect x="465.700" y="28.3" width="0.45" height="15.50" fill="#000" opacity="0.38"/>
<rect x="465.200" y="43.8" width="0.6" height="15.80" fill="#3a2a1a" opacity="0.55"/>
<rect x="467.150" y="28.3" width="0.75" height="15.50" fill="#ffffff" opacity="0.72"/>
<rect x="467.900" y="28.3" width="0.45" height="15.50" fill="#000" opacity="0.38"/>
<rect x="467.400" y="43.8" width="0.6" height="15.80" fill="#3a2a1a" opacity="0.55"/>
<rect x="469.350" y="28.3" width="0.75" height="15.50" fill="#ffffff" opacity="0.72"/>
<rect x="470.100" y="28.3" width="0.45" height="15.50" fill="#000" opacity="0.38"/>
<rect x="469.600" y="43.8" width="0.6" height="15.80" fill="#3a2a1a" opacity="0.55"/>
<rect x="471.550" y="28.3" width="0.75" height="15.50" fill="#ffffff" opacity="0.72"/>
<rect x="472.300" y="28.3" width="0.45" height="15.50" fill="#000" opacity="0.38"/>
<rect x="471.800" y="43.8" width="0.6" height="15.80" fill="#3a2a1a" opacity="0.55"/>
<rect x="473.750" y="28.3" width="0.75" height="15.50" fill="#ffffff" opacity="0.72"/>
<rect x="474.500" y="28.3" width="0.45" height="15.50" fill="#000" opacity="0.38"/>
<rect x="474.000" y="43.8" width="0.6" height="15.80" fill="#3a2a1a" opacity="0.55"/>
<rect x="475.950" y="28.3" width="0.75" height="15.50" fill="#ffffff" opacity="0.72"/>
<rect x="476.700" y="28.3" width="0.45" height="15.50" fill="#000" opacity="0.38"/>
<rect x="476.200" y="43.8" width="0.6" height="15.80" fill="#3a2a1a" opacity="0.55"/>
<rect x="478.150" y="28.3" width="0.75" height="15.50" fill="#ffffff" opacity="0.72"/>
<rect x="478.900" y="28.3" width="0.45" height="15.50" fill="#000" opacity="0.38"/>
<rect x="478.400" y="43.8" width="0.6" height="15.80" fill="#3a2a1a" opacity="0.55"/>
<rect x="480.350" y="28.3" width="0.75" height="15.50" fill="#ffffff" opacity="0.72"/>
<rect x="481.100" y="28.3" width="0.45" height="15.50" fill="#000" opacity="0.38"/>
<rect x="480.600" y="43.8" width="0.6" height="15.80" fill="#3a2a1a" opacity="0.55"/>
<rect x="461.000" y="28.3" width="22.000" height="31.30" fill="none" stroke="#222" stroke-width="0.9"/>
<line x1="461.000" y1="43.8" x2="483.000" y2="43.8" stroke="#333" stroke-width="0.4"/>
<rect x="487.200" y="28.3" width="2.235" height="15.50" fill="#5e371b"/>
<rect x="487.200" y="43.8" width="2.235" height="15.80" fill="#d2d2d2"/>
<rect x="489.415" y="28.3" width="2.235" height="15.50" fill="#5e371b"/>
<rect x="489.415" y="43.8" width="2.235" height="15.80" fill="#d2d2d2"/>
<rect x="491.630" y="28.3" width="2.235" height="15.50" fill="#5e371b"/>
<rect x="491.630" y="43.8" width="2.235" height="15.80" fill="#d2d2d2"/>
<rect x="493.845" y="28.3" width="2.235" height="15.50" fill="#5e371b"/>
<rect x="493.845" y="43.8" width="2.235" height="15.80" fill="#d2d2d2"/>
<rect x="496.060" y="28.3" width="2.235" height="15.50" fill="#5e371b"/>
<rect x="496.060" y="43.8" width="2.235" height="15.80" fill="#d2d2d2"/>
<rect x="498.275" y="28.3" width="2.235" height="15.50" fill="#5e371b"/>
<rect x="498.275" y="43.8" width="2.235" height="15.80" fill="#d2d2d2"/>
<rect x="500.490" y="28.3" width="2.235" height="15.50" fill="#5e371b"/>
<rect x="500.490" y="43.8" width="2.235" height="15.80" fill="#d2d2d2"/>
<rect x="502.705" y="28.3" width="2.235" height="15.50" fill="#5e371b"/>
<rect x="502.705" y="43.8" width="2.235" height="15.80" fill="#d2d2d2"/>
<rect x="504.920" y="28.3" width="2.235" height="15.50" fill="#5e371b"/>
<rect x="504.920" y="43.8" width="2.235" height="15.80" fill="#d2d2d2"/>
<rect x="507.135" y="28.3" width="2.235" height="15.50" fill="#5e371b"/>
<rect x="507.135" y="43.8" width="2.235" height="15.80" fill="#d2d2d2"/>
<rect x="509.350" y="28.3" width="2.235" height="15.50" fill="#5e371b"/>
<rect x="509.350" y="43.8" width="2.235" height="15.80" fill="#d2d2d2"/>
<rect x="511.565" y="28.3" width="2.235" height="15.50" fill="#5e371b"/>
<rect x="511.565" y="43.8" width="2.235" height="15.80" fill="#d2d2d2"/>
<rect x="513.780" y="28.3" width="2.235" height="15.50" fill="#5e371b"/>
<rect x="513.780" y="43.8" width="2.235" height="15.80" fill="#d2d2d2"/>
<rect x="515.995" y="28.3" width="2.235" height="15.50" fill="#5e371b"/>
<rect x="515.995" y="43.8" width="2.235" height="15.80" fill="#d2d2d2"/>
<rect x="488.965" y="28.3" width="0.75" height="15.50" fill="#ffffff" opacity="0.72"/>
<rect x="489.715" y="28.3" width="0.45" height="15.50" fill="#000" opacity="0.38"/>
<rect x="488.965" y="43.8" width="0.75" height="15.80" fill="#ffffff" opacity="0.8"/>
<rect x="489.715" y="43.8" width="0.45" height="15.80" fill="#000" opacity="0.25"/>
<rect x="491.180" y="28.3" width="0.75" height="15.50" fill="#ffffff" opacity="0.72"/>
<rect x="491.930" y="28.3" width="0.45" height="15.50" fill="#000" opacity="0.38"/>
<rect x="491.180" y="43.8" width="0.75" height="15.80" fill="#ffffff" opacity="0.8"/>
<rect x="491.930" y="43.8" width="0.45" height="15.80" fill="#000" opacity="0.25"/>
<rect x="493.395" y="28.3" width="0.75" height="15.50" fill="#ffffff" opacity="0.72"/>
<rect x="494.145" y="28.3" width="0.45" height="15.50" fill="#000" opacity="0.38"/>
<rect x="493.395" y="43.8" width="0.75" height="15.80" fill="#ffffff" opacity="0.8"/>
<rect x="494.145" y="43.8" width="0.45" height="15.80" fill="#000" opacity="0.25"/>
<rect x="495.610" y="28.3" width="0.75" height="15.50" fill="#ffffff" opacity="0.72"/>
<rect x="496.360" y="28.3" width="0.45" height="15.50" fill="#000" opacity="0.38"/>
<rect x="495.610" y="43.8" width="0.75" height="15.80" fill="#ffffff" opacity="0.8"/>
<rect x="496.360" y="43.8" width="0.45" height="15.80" fill="#000" opacity="0.25"/>
<rect x="497.825" y="28.3" width="0.75" height="15.50" fill="#ffffff" opacity="0.72"/>
<rect x="498.575" y="28.3" width="0.45" height="15.50" fill="#000" opacity="0.38"/>
<rect x="497.825" y="43.8" width="0.75" height="15.80" fill="#ffffff" opacity="0.8"/>
<rect x="498.575" y="43.8" width="0.45" height="15.80" fill="#000" opacity="0.25"/>
<rect x="500.040" y="28.3" width="0.75" height="15.50" fill="#ffffff" opacity="0.72"/>
<rect x="500.790" y="28.3" width="0.45" height="15.50" fill="#000" opacity="0.38"/>
<rect x="500.040" y="43.8" width="0.75" height="15.80" fill="#ffffff" opacity="0.8"/>
<rect x="500.790" y="43.8" width="0.45" height="15.80" fill="#000" opacity="0.25"/>
<rect x="502.255" y="28.3" width="0.75" height="15.50" fill="#ffffff" opacity="0.72"/>
<rect x="503.005" y="28.3" width="0.45" height="15.50" fill="#000" opacity="0.38"/>
<rect x="502.255" y="43.8" width="0.75" height="15.80" fill="#ffffff" opacity="0.8"/>
<rect x="503.005" y="43.8" width="0.45" height="15.80" fill="#000" opacity="0.25"/>
<rect x="504.470" y="28.3" width="0.75" height="15.50" fill="#ffffff" opacity="0.72"/>
<rect x="505.220" y="28.3" width="0.45" height="15.50" fill="#000" opacity="0.38"/>
<rect x="504.470" y="43.8" width="0.75" height="15.80" fill="#ffffff" opacity="0.8"/>
<rect x="505.220" y="43.8" width="0.45" height="15.80" fill="#000" opacity="0.25"/>
<rect x="506.685" y="28.3" width="0.75" height="15.50" fill="#ffffff" opacity="0.72"/>
<rect x="507.435" y="28.3" width="0.45" height="15.50" fill="#000" opacity="0.38"/>
<rect x="506.685" y="43.8" width="0.75" height="15.80" fill="#ffffff" opacity="0.8"/>
<rect x="507.435" y="43.8" width="0.45" height="15.80" fill="#000" opacity="0.25"/>
<rect x="508.900" y="28.3" width="0.75" height="15.50" fill="#ffffff" opacity="0.72"/>
<rect x="509.650" y="28.3" width="0.45" height="15.50" fill="#000" opacity="0.38"/>
<rect x="508.900" y="43.8" width="0.75" height="15.80" fill="#ffffff" opacity="0.8"/>
<rect x="509.650" y="43.8" width="0.45" height="15.80" fill="#000" opacity="0.25"/>
<rect x="511.115" y="28.3" width="0.75" height="15.50" fill="#ffffff" opacity="0.72"/>
<rect x="511.865" y="28.3" width="0.45" height="15.50" fill="#000" opacity="0.38"/>
<rect x="511.115" y="43.8" width="0.75" height="15.80" fill="#ffffff" opacity="0.8"/>
<rect x="511.865" y="43.8" width="0.45" height="15.80" fill="#000" opacity="0.25"/>
<rect x="513.330" y="28.3" width="0.75" height="15.50" fill="#ffffff" opacity="0.72"/>
<rect x="514.080" y="28.3" width="0.45" height="15.50" fill="#000" opacity="0.38"/>
<rect x="513.330" y="43.8" width="0.75" height="15.80" fill="#ffffff" opacity="0.8"/>
<rect x="514.080" y="43.8" width="0.45" height="15.80" fill="#000" opacity="0.25"/>
<rect x="515.545" y="28.3" width="0.75" height="15.50" fill="#ffffff" opacity="0.72"/>
<rect x="516.295" y="28.3" width="0.45" height="15.50" fill="#000" opacity="0.38"/>
<rect x="515.545" y="43.8" width="0.75" height="15.80" fill="#ffffff" opacity="0.8"/>
<rect x="516.295" y="43.8" width="0.45" height="15.80" fill="#000" opacity="0.25"/>
<rect x="487.200" y="28.3" width="31.010" height="31.30" fill="none" stroke="#222" stroke-width="0.9"/>
<line x1="487.200" y1="43.8" x2="518.210" y2="43.8" stroke="#333" stroke-width="0.4"/>
<line x1="285.4" y1="62.0" x2="307.0" y2="62.0" stroke="#2a2a2a" stroke-width="2.0" stroke-dasharray="1.3 0.8"/>
<line x1="332.3" y1="62.0" x2="357.9" y2="62.0" stroke="#2a2a2a" stroke-width="2.0" stroke-dasharray="1.3 0.8"/>
<line x1="366.9" y1="62.0" x2="373.3" y2="62.0" stroke="#2a2a2a" stroke-width="2.0" stroke-dasharray="1.3 0.8"/>
<line x1="472.0" y1="62.0" x2="476.5" y2="62.0" stroke="#2a2a2a" stroke-width="2.0" stroke-dasharray="1.3 0.8"/>
<text x="191.4" y="25.2" font-size="9.6" font-weight="bold" font-style="normal" fill="#111" stroke="#111" stroke-width="0.3">Rb</text>
<text x="205.9" y="21.6" font-size="6.3" font-weight="bold" font-style="normal" fill="#111" stroke="#111" stroke-width="0.2">lost</text>
<text x="220.9" y="25.3" font-size="9.6" font-weight="bold" font-style="italic" fill="#111" stroke="#111" stroke-width="0.3">RB1</text>
<text x="243.6" y="21.6" font-size="5.9" font-weight="bold" font-style="normal" fill="#111" stroke="#111" stroke-width="0.2">mut</text>
<text x="395.1" y="25.1" font-size="9.6" font-weight="bold" font-style="normal" fill="#111" stroke="#111" stroke-width="0.3">Rb</text>
<text x="409.9" y="21.6" font-size="6.3" font-weight="bold" font-style="normal" fill="#111" stroke="#111" stroke-width="0.2">lost</text>
<text x="423.6" y="25.3" font-size="9.6" font-weight="bold" font-style="italic" fill="#111" stroke="#111" stroke-width="0.3">RB1</text>
<text x="445.6" y="21.6" font-size="6.4" font-weight="bold" font-style="normal" fill="#111" stroke="#111" stroke-width="0.2">wt</text>
<text x="461.6" y="14.8" font-size="9.6" font-weight="bold" font-style="normal" fill="#111" stroke="#111" stroke-width="0.3">Rb</text>
<text x="475.0" y="11.2" font-size="5.2" font-weight="bold" font-style="normal" fill="#222" stroke="#222" stroke-width="0.2">exp</text>
<text x="461.3" y="25.5" font-size="9.6" font-weight="bold" font-style="italic" fill="#111" stroke="#111" stroke-width="0.3">RB1</text>
<text x="481.3" y="21.8" font-size="5.4" font-weight="bold" font-style="normal" fill="#222" stroke="#222" stroke-width="0.2">mut</text>
<text x="493.2" y="14.8" font-size="9.6" font-weight="bold" font-style="normal" fill="#111" stroke="#111" stroke-width="0.3">Rb</text>
<text x="507.0" y="11.2" font-size="5.2" font-weight="bold" font-style="normal" fill="#222" stroke="#222" stroke-width="0.2">exp</text>
<text x="493.0" y="25.5" font-size="9.6" font-weight="bold" font-style="italic" fill="#111" stroke="#111" stroke-width="0.3">RB1</text>
<text x="512.6" y="21.8" font-size="5.4" font-weight="bold" font-style="normal" fill="#222" stroke="#222" stroke-width="0.2">wt</text>
<text x="47.50" y="71.10" font-size="7.62" font-weight="bold" font-style="normal" fill="#1a1a1a" text-anchor="start" stroke="#1a1a1a" stroke-width="0.15" >Rb expression by IHC</text>
<text x="150.00" y="71.70" font-size="7.65" font-weight="bold" font-style="normal" fill="#1a1a1a" text-anchor="start" stroke="#1a1a1a" stroke-width="0.15" ><tspan font-style="italic">RB1</tspan> mutations and other genomic alterations by targeted NGS</text>
<rect x="49.0" y="76.3" width="3.5" height="13.3" fill="#aaaaaa"/>
<rect x="49.0" y="89.6" width="3.5" height="13.4" fill="#5e371b"/>
<rect x="151.2" y="76.3" width="3.5" height="13.3" fill="#111111"/>
<rect x="151.2" y="89.6" width="3.5" height="13.4" fill="#f7a21d"/>
<rect x="205.0" y="76.3" width="3.5" height="13.3" fill="#4f9fdc"/>
<rect x="205.0" y="89.6" width="3.5" height="13.4" fill="#9b2a9b"/>
<rect x="280.6" y="76.3" width="3.5" height="13.3" fill="#1d8a45"/>
<rect x="280.6" y="89.6" width="3.5" height="13.4" fill="#ef6b2c"/>
<rect x="328.2" y="76.3" width="3.5" height="13.3" fill="#8ccc55"/>
<rect x="328.2" y="89.6" width="3.5" height="13.4" fill="#cfcfcf"/>
<text x="56.50" y="86.80" font-size="7.6" font-weight="normal" font-style="normal" fill="#2a2a2a" text-anchor="start" stroke="#2a2a2a" stroke-width="0.18" >Lost</text>
<text x="56.50" y="100.50" font-size="7.6" font-weight="normal" font-style="normal" fill="#2a2a2a" text-anchor="start" stroke="#2a2a2a" stroke-width="0.18" >Retained</text>
<text x="158.00" y="86.80" font-size="7.6" font-weight="normal" font-style="normal" fill="#2a2a2a" text-anchor="start" stroke="#2a2a2a" stroke-width="0.18" >Truncating</text>
<text x="158.00" y="100.50" font-size="7.6" font-weight="normal" font-style="normal" fill="#2a2a2a" text-anchor="start" stroke="#2a2a2a" stroke-width="0.18" >Splice site</text>
<text x="212.00" y="86.80" font-size="7.6" font-weight="normal" font-style="normal" fill="#2a2a2a" text-anchor="start" stroke="#2a2a2a" stroke-width="0.18" >Deletion</text>
<text x="212.00" y="100.50" font-size="7.6" font-weight="normal" font-style="normal" fill="#2a2a2a" text-anchor="start" stroke="#2a2a2a" stroke-width="0.18" >Structural variant</text>
<text x="287.60" y="86.80" font-size="7.6" font-weight="normal" font-style="normal" fill="#2a2a2a" text-anchor="start" stroke="#2a2a2a" stroke-width="0.18" >Missense</text>
<text x="287.60" y="100.50" font-size="7.6" font-weight="normal" font-style="normal" fill="#2a2a2a" text-anchor="start" stroke="#2a2a2a" stroke-width="0.18" >In frame</text>
<text x="335.20" y="86.80" font-size="7.6" font-weight="normal" font-style="normal" fill="#2a2a2a" text-anchor="start" stroke="#2a2a2a" stroke-width="0.18" >Mixed</text>
<text x="335.20" y="100.50" font-size="7.6" font-weight="normal" font-style="normal" fill="#2a2a2a" text-anchor="start" stroke="#2a2a2a" stroke-width="0.18" >Wild type</text>
<text x="388.00" y="100.20" font-size="8.0" font-weight="normal" font-style="normal" fill="#2a2a2a" text-anchor="start" stroke="#2a2a2a" stroke-width="0.18" >* Manual review</text>
<text x="0.70" y="141.30" font-size="14.5" font-weight="bold" font-style="normal" fill="#000" text-anchor="start" stroke="#000" stroke-width="0.15" >B</text>
<text x="63.50" y="152.90" font-size="9.36" font-weight="bold" font-style="normal" fill="#1a1a1a" text-anchor="start" stroke="#1a1a1a" stroke-width="0.15" ><tspan font-style="italic">RB1</tspan> alterations on clinical pipeline</text>
<text x="313.50" y="152.20" font-size="9.59" font-weight="bold" font-style="normal" fill="#1a1a1a" text-anchor="start" stroke="#1a1a1a" stroke-width="0.15" ><tspan font-style="italic">RB1</tspan> alterations after manual review</text>
<line x1="11.2" y1="164.4" x2="260.5" y2="164.4" stroke="#8a8a8a" stroke-width="1"/>
<line x1="11.2" y1="237.9" x2="260.5" y2="237.9" stroke="#8a8a8a" stroke-width="1"/>
<line x1="203.8" y1="187.8" x2="260.5" y2="187.8" stroke="#9a9a9a" stroke-width="0.8"/>
<rect x="91.3" y="164.4" width="56.3" height="23.400000000000006" fill="#f4a6ab"/>
<rect x="147.6" y="164.4" width="56.20000000000002" height="23.400000000000006" fill="#d5e2f2"/>
<rect x="11.2" y="187.8" width="80.1" height="16.5" fill="#f4a6ab"/>
<rect x="11.2" y="204.3" width="80.1" height="17.0" fill="#d5e2f2"/>
<path d="M11.2,221.3 L11.2,187.8 L91.3,187.8 L91.3,164.4 L203.8,164.4 L203.8,187.8" fill="none" stroke="#1a1a1a" stroke-width="1.6" stroke-linejoin="miter"/>
<line x1="10.399999999999999" y1="221.3" x2="91.3" y2="221.3" stroke="#1a1a1a" stroke-width="1.6"/>
<text x="18.70" y="179.90" font-size="8.52" font-weight="bold" font-style="normal" fill="#262626" text-anchor="start" stroke="#262626" stroke-width="0.15" >Groups</text>
<text x="119.45" y="173.00" font-size="8.3" font-weight="bold" font-style="normal" fill="#5a1a1a" text-anchor="middle" stroke="#5a1a1a" stroke-width="0.15" >Rb</text>
<text x="119.45" y="184.50" font-size="8.3" font-weight="bold" font-style="normal" fill="#5a1a1a" text-anchor="middle" stroke="#5a1a1a" stroke-width="0.15" >lost</text>
<text x="175.70" y="173.00" font-size="8.3" font-weight="bold" font-style="normal" fill="#1a2a4a" text-anchor="middle" stroke="#1a2a4a" stroke-width="0.15" >Rb</text>
<text x="175.70" y="184.50" font-size="8.3" font-weight="bold" font-style="normal" fill="#1a2a4a" text-anchor="middle" stroke="#1a2a4a" stroke-width="0.15" >expressed</text>
<text x="212.30" y="178.60" font-size="8.3" font-weight="bold" font-style="normal" fill="#262626" text-anchor="start" stroke="#262626" stroke-width="0.15" >Total</text>
<text x="51.25" y="199.20" font-size="8.4" font-weight="bold" font-style="normal" fill="#3a1010" text-anchor="middle" stroke="#3a1010" stroke-width="0.15" ><tspan font-style="italic">RB1</tspan> mutant</text>
<text x="51.25" y="215.80" font-size="8.4" font-weight="bold" font-style="normal" fill="#101a30" text-anchor="middle" stroke="#101a30" stroke-width="0.15" ><tspan font-style="italic">RB1</tspan> wild type</text>
<text x="18.70" y="232.70" font-size="8.4" font-weight="bold" font-style="normal" fill="#262626" text-anchor="start" stroke="#262626" stroke-width="0.15" >Total</text>
<text x="98.50" y="199.50" font-size="8.4" font-weight="normal" font-style="normal" fill="#262626" text-anchor="start" stroke="#262626" stroke-width="0.18" >130 (63%)</text>
<text x="155.60" y="199.50" font-size="8.4" font-weight="normal" font-style="normal" fill="#262626" text-anchor="start" stroke="#262626" stroke-width="0.18" >8 (4%)</text>
<text x="212.30" y="199.50" font-size="8.4" font-weight="normal" font-style="normal" fill="#262626" text-anchor="start" stroke="#262626" stroke-width="0.18" >138 (67%)</text>
<text x="98.50" y="216.00" font-size="8.4" font-weight="normal" font-style="normal" fill="#262626" text-anchor="start" stroke="#262626" stroke-width="0.18" >54 (26%)</text>
<text x="155.60" y="216.00" font-size="8.4" font-weight="normal" font-style="normal" fill="#262626" text-anchor="start" stroke="#262626" stroke-width="0.18" >16 (7%)</text>
<text x="214.30" y="216.00" font-size="8.4" font-weight="normal" font-style="normal" fill="#262626" text-anchor="start" stroke="#262626" stroke-width="0.18" >70 (33%)</text>
<text x="100.90" y="232.70" font-size="8.4" font-weight="normal" font-style="normal" fill="#262626" text-anchor="start" stroke="#262626" stroke-width="0.18" >184 (89%)</text>
<text x="158.10" y="232.70" font-size="8.4" font-weight="normal" font-style="normal" fill="#262626" text-anchor="start" stroke="#262626" stroke-width="0.18" >24 (11%)</text>
<text x="212.30" y="232.70" font-size="8.4" font-weight="normal" font-style="normal" fill="#262626" text-anchor="start" stroke="#262626" stroke-width="0.18" ><tspan font-style="italic">n</tspan> = 208</text>
<line x1="266.5" y1="164.4" x2="518.2" y2="164.4" stroke="#8a8a8a" stroke-width="1"/>
<line x1="266.5" y1="237.9" x2="518.2" y2="237.9" stroke="#8a8a8a" stroke-width="1"/>
<line x1="459.4" y1="187.8" x2="518.2" y2="187.8" stroke="#9a9a9a" stroke-width="0.8"/>
<rect x="346.1" y="164.4" width="57.19999999999999" height="23.400000000000006" fill="#f4a6ab"/>
<rect x="403.3" y="164.4" width="56.099999999999966" height="23.400000000000006" fill="#d5e2f2"/>
<rect x="266.5" y="187.8" width="79.60000000000002" height="16.5" fill="#f4a6ab"/>
<rect x="266.5" y="204.3" width="79.60000000000002" height="17.0" fill="#d5e2f2"/>
<path d="M266.5,221.3 L266.5,187.8 L346.1,187.8 L346.1,164.4 L459.4,164.4 L459.4,187.8" fill="none" stroke="#1a1a1a" stroke-width="1.6" stroke-linejoin="miter"/>
<line x1="265.7" y1="221.3" x2="346.1" y2="221.3" stroke="#1a1a1a" stroke-width="1.6"/>
<text x="274.00" y="179.90" font-size="8.52" font-weight="bold" font-style="normal" fill="#262626" text-anchor="start" stroke="#262626" stroke-width="0.15" >Groups</text>
<text x="374.70" y="173.00" font-size="8.3" font-weight="bold" font-style="normal" fill="#5a1a1a" text-anchor="middle" stroke="#5a1a1a" stroke-width="0.15" >Rb</text>
<text x="374.70" y="184.50" font-size="8.3" font-weight="bold" font-style="normal" fill="#5a1a1a" text-anchor="middle" stroke="#5a1a1a" stroke-width="0.15" >lost</text>
<text x="431.35" y="173.00" font-size="8.3" font-weight="bold" font-style="normal" fill="#1a2a4a" text-anchor="middle" stroke="#1a2a4a" stroke-width="0.15" >Rb</text>
<text x="431.35" y="184.50" font-size="8.3" font-weight="bold" font-style="normal" fill="#1a2a4a" text-anchor="middle" stroke="#1a2a4a" stroke-width="0.15" >expressed</text>
<text x="467.90" y="178.60" font-size="8.3" font-weight="bold" font-style="normal" fill="#262626" text-anchor="start" stroke="#262626" stroke-width="0.15" >Total</text>
<text x="306.30" y="199.20" font-size="8.4" font-weight="bold" font-style="normal" fill="#3a1010" text-anchor="middle" stroke="#3a1010" stroke-width="0.15" ><tspan font-style="italic">RB1</tspan> mutant</text>
<text x="306.30" y="215.80" font-size="8.4" font-weight="bold" font-style="normal" fill="#101a30" text-anchor="middle" stroke="#101a30" stroke-width="0.15" ><tspan font-style="italic">RB1</tspan> wild type</text>
<text x="274.00" y="232.70" font-size="8.4" font-weight="bold" font-style="normal" fill="#262626" text-anchor="start" stroke="#262626" stroke-width="0.15" >Total</text>
<text x="353.70" y="199.50" font-size="8.4" font-weight="normal" font-style="normal" fill="#262626" text-anchor="start" stroke="#262626" stroke-width="0.18" >155 (75%)</text>
<text x="411.00" y="199.50" font-size="8.4" font-weight="normal" font-style="normal" fill="#262626" text-anchor="start" stroke="#262626" stroke-width="0.18" >10 (5%)</text>
<text x="467.30" y="199.50" font-size="8.4" font-weight="normal" font-style="normal" fill="#262626" text-anchor="start" stroke="#262626" stroke-width="0.18" >165 (80%)</text>
<text x="353.70" y="216.00" font-size="8.4" font-weight="normal" font-style="normal" fill="#262626" text-anchor="start" stroke="#262626" stroke-width="0.18" >29 (14%)</text>
<text x="411.00" y="216.00" font-size="8.4" font-weight="normal" font-style="normal" fill="#262626" text-anchor="start" stroke="#262626" stroke-width="0.18" >14 (6%)</text>
<text x="468.70" y="216.00" font-size="8.4" font-weight="normal" font-style="normal" fill="#262626" text-anchor="start" stroke="#262626" stroke-width="0.18" >43 (20%)</text>
<text x="356.60" y="232.70" font-size="8.4" font-weight="normal" font-style="normal" fill="#262626" text-anchor="start" stroke="#262626" stroke-width="0.18" >184 (89%)</text>
<text x="413.40" y="232.70" font-size="8.4" font-weight="normal" font-style="normal" fill="#262626" text-anchor="start" stroke="#262626" stroke-width="0.18" >24 (11%)</text>
<text x="466.30" y="232.70" font-size="8.4" font-weight="normal" font-style="normal" fill="#262626" text-anchor="start" stroke="#262626" stroke-width="0.18" ><tspan font-style="italic">n</tspan> = 208</text>
<text x="0.50" y="271.60" font-size="14.5" font-weight="bold" font-style="normal" fill="#000" text-anchor="start" stroke="#000" stroke-width="0.15" >C</text>
<text x="60.60" y="273.80" font-size="10.7" font-weight="bold" font-style="normal" fill="#111" text-anchor="start" stroke="#111" stroke-width="0.15" >Overall cohort</text>
<text y="272.6" font-size="10.6" font-weight="bold" fill="#111" stroke="#111" stroke-width="0.35"><tspan x="324.3">Rb</tspan><tspan x="337.6" y="268.6" font-size="6.3">exp</tspan><tspan x="348.3" y="272.6">/</tspan><tspan x="352.2" font-style="italic" font-size="10.7">RB1</tspan><tspan x="374.6" y="268.6" font-size="6.4">mut</tspan></text>
<path d="M97.40,328.60 L97.40,284.90 A45.5,43.7 0 0 1 100.86,285.03 Z" fill="#8ccc55" stroke="#8ccc55" stroke-width="0.3" stroke-linejoin="round"/>
<path d="M97.40,328.60 L100.86,285.03 A45.5,43.7 0 0 1 102.59,285.18 Z" fill="#ef6b2c" stroke="#ef6b2c" stroke-width="0.3" stroke-linejoin="round"/>
<path d="M97.40,328.60 L102.59,285.18 A45.5,43.7 0 0 1 112.69,287.44 Z" fill="#1d8a45" stroke="#1d8a45" stroke-width="0.3" stroke-linejoin="round"/>
<path d="M97.40,328.60 L112.69,287.44 A45.5,43.7 0 0 1 123.44,292.76 Z" fill="#9b2a9b" stroke="#9b2a9b" stroke-width="0.3" stroke-linejoin="round"/>
<path d="M97.40,328.60 L123.44,292.76 A45.5,43.7 0 0 1 142.85,326.52 Z" fill="#4f9fdc" stroke="#4f9fdc" stroke-width="0.3" stroke-linejoin="round"/>
<path d="M97.40,328.60 L142.85,326.52 A45.5,43.7 0 0 1 91.35,371.91 Z" fill="#f7a21d" stroke="#f7a21d" stroke-width="0.3" stroke-linejoin="round"/>
<path d="M97.40,328.60 L91.35,371.91 A45.5,43.7 0 0 1 97.40,284.90 Z" fill="#333333" stroke="#333333" stroke-width="0.3" stroke-linejoin="round"/>
<line x1="97.40" y1="328.60" x2="97.40" y2="284.90" stroke="#e8dcc0" stroke-width="0.7"/>
<line x1="97.40" y1="328.60" x2="100.86" y2="285.03" stroke="#c8a070" stroke-width="0.5"/>
<line x1="97.40" y1="328.60" x2="102.59" y2="285.18" stroke="#6a4a30" stroke-width="0.5"/>
<line x1="97.40" y1="328.60" x2="112.69" y2="287.44" stroke="#2a2a2a" stroke-width="0.5"/>
<line x1="97.40" y1="328.60" x2="123.44" y2="292.76" stroke="#2a2a2a" stroke-width="0.5"/>
<line x1="97.40" y1="328.60" x2="142.85" y2="326.52" stroke="#f2e8d2" stroke-width="0.9"/>
<line x1="97.40" y1="328.60" x2="91.35" y2="371.91" stroke="#f2e8d2" stroke-width="0.9"/>
<ellipse cx="97.4" cy="328.6" rx="45.5" ry="43.7" fill="none" stroke="#2a2a2a" stroke-width="0.9"/>
<path d="M349.00,330.20 L349.00,286.90 A45.0,43.3 0 0 1 375.45,295.17 Z" fill="#ef6b2c" stroke="#ef6b2c" stroke-width="0.3" stroke-linejoin="round"/>
<path d="M349.00,330.20 L375.45,295.17 A45.0,43.3 0 0 1 391.80,316.82 Z" fill="#1d8a45" stroke="#1d8a45" stroke-width="0.3" stroke-linejoin="round"/>
<path d="M349.00,330.20 L391.80,316.82 A45.0,43.3 0 0 1 391.80,343.58 Z" fill="#4f9fdc" stroke="#4f9fdc" stroke-width="0.3" stroke-linejoin="round"/>
<path d="M349.00,330.20 L391.80,343.58 A45.0,43.3 0 1 1 349.00,286.90 Z" fill="#f7a21d" stroke="#f7a21d" stroke-width="0.3" stroke-linejoin="round"/>
<line x1="349.00" y1="330.20" x2="349.00" y2="286.90" stroke="#1a1a1a" stroke-width="0.8"/>
<line x1="349.00" y1="330.20" x2="375.45" y2="295.17" stroke="#1a1a1a" stroke-width="0.8"/>
<line x1="349.00" y1="330.20" x2="391.80" y2="316.82" stroke="#1a1a1a" stroke-width="0.8"/>
<line x1="349.00" y1="330.20" x2="391.80" y2="343.58" stroke="#1a1a1a" stroke-width="0.8"/>
<ellipse cx="349.0" cy="330.2" rx="45.0" ry="43.3" fill="none" stroke="#2a2a2a" stroke-width="0.9"/>
<rect x="149.0" y="285.60" width="11.6" height="5.2" fill="#333333" stroke="#333" stroke-width="0.6"/>
<text x="167.50" y="291.50" font-size="9.17" font-weight="normal" font-style="normal" fill="#2a2a2a" text-anchor="start" stroke="#2a2a2a" stroke-width="0.18" xml:space="preserve">48% (79) Truncating</text>
<rect x="149.0" y="295.72" width="11.6" height="5.2" fill="#f7a21d" stroke="#333" stroke-width="0.6"/>
<text x="167.50" y="301.62" font-size="9.17" font-weight="normal" font-style="normal" fill="#2a2a2a" text-anchor="start" stroke="#2a2a2a" stroke-width="0.18" xml:space="preserve">28%  (46) Splice site</text>
<rect x="149.0" y="305.84" width="11.6" height="5.2" fill="#4f9fdc" stroke="#333" stroke-width="0.6"/>
<text x="167.50" y="311.74" font-size="9.17" font-weight="normal" font-style="normal" fill="#2a2a2a" text-anchor="start" stroke="#2a2a2a" stroke-width="0.18" xml:space="preserve">15%  (24) Deletion</text>
<rect x="149.0" y="315.96" width="11.6" height="5.2" fill="#9b2a9b" stroke="#333" stroke-width="0.6"/>
<text x="167.50" y="321.86" font-size="9.17" font-weight="normal" font-style="normal" fill="#2a2a2a" text-anchor="start" stroke="#2a2a2a" stroke-width="0.18" xml:space="preserve">4%  (7) Structural variant</text>
<rect x="149.0" y="326.08" width="11.6" height="5.2" fill="#1d8a45" stroke="#333" stroke-width="0.6"/>
<text x="167.50" y="331.98" font-size="9.17" font-weight="normal" font-style="normal" fill="#2a2a2a" text-anchor="start" stroke="#2a2a2a" stroke-width="0.18" xml:space="preserve">3.6%  (6) Missense</text>
<rect x="149.0" y="336.20" width="11.6" height="5.2" fill="#ef6b2c" stroke="#333" stroke-width="0.6"/>
<text x="167.50" y="342.10" font-size="9.17" font-weight="normal" font-style="normal" fill="#2a2a2a" text-anchor="start" stroke="#2a2a2a" stroke-width="0.18" xml:space="preserve">0.6%  (1) In frame</text>
<rect x="149.0" y="346.32" width="11.6" height="5.2" fill="#8ccc55" stroke="#333" stroke-width="0.6"/>
<text x="167.50" y="352.22" font-size="9.17" font-weight="normal" font-style="normal" fill="#2a2a2a" text-anchor="start" stroke="#2a2a2a" stroke-width="0.18" xml:space="preserve"><tspan fill="#8a8a8a" font-size="7.5">≈</tspan>1%  (2) Mixed</text>
<rect x="399.8" y="288.40" width="11.6" height="5.2" fill="#f7a21d" stroke="#333" stroke-width="0.6"/>
<text x="417.80" y="294.30" font-size="9.3" font-weight="normal" font-style="normal" fill="#2a2a2a" text-anchor="start" stroke="#2a2a2a" stroke-width="0.18" xml:space="preserve">70%  (7) Splice site</text>
<rect x="399.8" y="298.47" width="11.6" height="5.2" fill="#4f9fdc" stroke="#333" stroke-width="0.6"/>
<text x="417.80" y="304.37" font-size="9.3" font-weight="normal" font-style="normal" fill="#2a2a2a" text-anchor="start" stroke="#2a2a2a" stroke-width="0.18" xml:space="preserve">10%  (1) Deletion</text>
<rect x="399.8" y="308.54" width="11.6" height="5.2" fill="#1d8a45" stroke="#333" stroke-width="0.6"/>
<text x="417.80" y="314.44" font-size="9.3" font-weight="normal" font-style="normal" fill="#2a2a2a" text-anchor="start" stroke="#2a2a2a" stroke-width="0.18" xml:space="preserve">10%  (1) Missense</text>
<rect x="399.8" y="318.61" width="11.6" height="5.2" fill="#ef6b2c" stroke="#333" stroke-width="0.6"/>
<text x="417.80" y="324.51" font-size="9.3" font-weight="normal" font-style="normal" fill="#2a2a2a" text-anchor="start" stroke="#2a2a2a" stroke-width="0.18" xml:space="preserve">10%  (1) In frame</text>
<text x="78.30" y="388.50" font-size="10.57" font-weight="normal" font-style="normal" fill="#333" text-anchor="start" stroke="#333" stroke-width="0.18" >Total:165</text>
<text x="326.50" y="388.30" font-size="10.57" font-weight="normal" font-style="normal" fill="#333" text-anchor="start" stroke="#333" stroke-width="0.18" >Total: 10</text>
<text x="0.60" y="424.20" font-size="14.5" font-weight="bold" font-style="normal" fill="#000" text-anchor="start" stroke="#000" stroke-width="0.15" >D</text>
<line x1="63.8" y1="451.20000000000005" x2="63.8" y2="513.2" stroke="#888" stroke-width="0.8"/>
<line x1="61.3" y1="513.2" x2="63.8" y2="513.2" stroke="#888" stroke-width="0.8"/>
<line x1="61.3" y1="500.80000000000007" x2="63.8" y2="500.80000000000007" stroke="#888" stroke-width="0.8"/>
<line x1="61.3" y1="488.40000000000003" x2="63.8" y2="488.40000000000003" stroke="#888" stroke-width="0.8"/>
<line x1="61.3" y1="476.00000000000006" x2="63.8" y2="476.00000000000006" stroke="#888" stroke-width="0.8"/>
<line x1="61.3" y1="463.6" x2="63.8" y2="463.6" stroke="#888" stroke-width="0.8"/>
<line x1="61.3" y1="451.20000000000005" x2="63.8" y2="451.20000000000005" stroke="#888" stroke-width="0.8"/>
<text x="55.80" y="455.00" font-size="8.6" font-weight="normal" font-style="normal" fill="#333" text-anchor="middle" stroke="#333" stroke-width="0.18" >5</text>
<text x="55.80" y="517.20" font-size="8.6" font-weight="normal" font-style="normal" fill="#333" text-anchor="middle" stroke="#333" stroke-width="0.18" >0</text>
<text x="0" y="0" font-size="8.6" fill="#222" stroke="#222" stroke-width="0.15" text-anchor="middle" transform="translate(44.3,482.3) rotate(-90)"># RB1 Mutations</text>
<line x1="74.0" y1="500.80" x2="74.0" y2="518.5" stroke="#c9c9c9" stroke-width="0.95"/>
<line x1="76.7" y1="500.80" x2="76.7" y2="518.5" stroke="#c9c9c9" stroke-width="0.95"/>
<line x1="80.3" y1="500.80" x2="80.3" y2="518.5" stroke="#c9c9c9" stroke-width="0.95"/>
<line x1="85.9" y1="500.80" x2="85.9" y2="518.5" stroke="#c9c9c9" stroke-width="0.95"/>
<line x1="88.0" y1="500.80" x2="88.0" y2="518.5" stroke="#c9c9c9" stroke-width="0.95"/>
<line x1="88.0" y1="488.40" x2="88.0" y2="518.5" stroke="#a0a0a0" stroke-width="0.6"/>
<line x1="94.0" y1="500.80" x2="94.0" y2="518.5" stroke="#c9c9c9" stroke-width="0.95"/>
<line x1="98.3" y1="500.80" x2="98.3" y2="518.5" stroke="#c9c9c9" stroke-width="0.95"/>
<line x1="99.6" y1="500.80" x2="99.6" y2="518.5" stroke="#c9c9c9" stroke-width="0.95"/>
<line x1="105.6" y1="500.80" x2="105.6" y2="518.5" stroke="#c9c9c9" stroke-width="0.95"/>
<line x1="112.7" y1="500.80" x2="112.7" y2="518.5" stroke="#c9c9c9" stroke-width="0.95"/>
<line x1="114.5" y1="500.80" x2="114.5" y2="518.5" stroke="#c9c9c9" stroke-width="0.95"/>
<line x1="122.2" y1="500.80" x2="122.2" y2="518.5" stroke="#c9c9c9" stroke-width="0.95"/>
<line x1="135.5" y1="500.80" x2="135.5" y2="518.5" stroke="#c9c9c9" stroke-width="0.95"/>
<line x1="138.0" y1="500.80" x2="138.0" y2="518.5" stroke="#c9c9c9" stroke-width="0.95"/>
<line x1="140.4" y1="500.80" x2="140.4" y2="518.5" stroke="#c9c9c9" stroke-width="0.95"/>
<line x1="128.8" y1="500.80" x2="128.8" y2="518.5" stroke="#c9c9c9" stroke-width="0.95"/>
<line x1="110.0" y1="500.80" x2="110.0" y2="518.5" stroke="#c9c9c9" stroke-width="0.95"/>
<line x1="110.0" y1="476.00" x2="110.0" y2="518.5" stroke="#a0a0a0" stroke-width="0.6"/>
<line x1="150.5" y1="500.80" x2="150.5" y2="518.5" stroke="#c9c9c9" stroke-width="0.95"/>
<line x1="159.1" y1="500.80" x2="159.1" y2="518.5" stroke="#c9c9c9" stroke-width="0.95"/>
<line x1="166.4" y1="500.80" x2="166.4" y2="518.5" stroke="#c9c9c9" stroke-width="0.95"/>
<line x1="176.2" y1="500.80" x2="176.2" y2="518.5" stroke="#c9c9c9" stroke-width="0.95"/>
<line x1="178.5" y1="500.80" x2="178.5" y2="518.5" stroke="#c9c9c9" stroke-width="0.95"/>
<line x1="187.7" y1="500.80" x2="187.7" y2="518.5" stroke="#c9c9c9" stroke-width="0.95"/>
<line x1="191.5" y1="500.80" x2="191.5" y2="518.5" stroke="#c9c9c9" stroke-width="0.95"/>
<line x1="193.0" y1="500.80" x2="193.0" y2="518.5" stroke="#c9c9c9" stroke-width="0.95"/>
<line x1="198.5" y1="500.80" x2="198.5" y2="518.5" stroke="#c9c9c9" stroke-width="0.95"/>
<line x1="202.5" y1="500.80" x2="202.5" y2="518.5" stroke="#c9c9c9" stroke-width="0.95"/>
<line x1="205.1" y1="500.80" x2="205.1" y2="518.5" stroke="#c9c9c9" stroke-width="0.95"/>
<line x1="207.3" y1="500.80" x2="207.3" y2="518.5" stroke="#c9c9c9" stroke-width="0.95"/>
<line x1="153.0" y1="500.80" x2="153.0" y2="518.5" stroke="#c9c9c9" stroke-width="0.95"/>
<line x1="162.9" y1="500.80" x2="162.9" y2="518.5" stroke="#c9c9c9" stroke-width="0.95"/>
<line x1="163.3" y1="500.80" x2="163.3" y2="518.5" stroke="#c9c9c9" stroke-width="0.95"/>
<line x1="163.3" y1="488.40" x2="163.3" y2="518.5" stroke="#a0a0a0" stroke-width="0.6"/>
<line x1="168.4" y1="500.80" x2="168.4" y2="518.5" stroke="#c9c9c9" stroke-width="0.95"/>
<line x1="168.4" y1="488.40" x2="168.4" y2="518.5" stroke="#a0a0a0" stroke-width="0.6"/>
<line x1="201.5" y1="500.80" x2="201.5" y2="518.5" stroke="#c9c9c9" stroke-width="0.95"/>
<line x1="201.5" y1="476.00" x2="201.5" y2="518.5" stroke="#a0a0a0" stroke-width="0.6"/>
<line x1="228.5" y1="500.80" x2="228.5" y2="518.5" stroke="#c9c9c9" stroke-width="0.95"/>
<line x1="231.8" y1="500.80" x2="231.8" y2="518.5" stroke="#c9c9c9" stroke-width="0.95"/>
<line x1="248.9" y1="500.80" x2="248.9" y2="518.5" stroke="#c9c9c9" stroke-width="0.95"/>
<line x1="250.8" y1="500.80" x2="250.8" y2="518.5" stroke="#c9c9c9" stroke-width="0.95"/>
<line x1="260.0" y1="500.80" x2="260.0" y2="518.5" stroke="#c9c9c9" stroke-width="0.95"/>
<line x1="268.9" y1="500.80" x2="268.9" y2="518.5" stroke="#c9c9c9" stroke-width="0.95"/>
<line x1="271.5" y1="500.80" x2="271.5" y2="518.5" stroke="#c9c9c9" stroke-width="0.95"/>
<line x1="230.0" y1="500.80" x2="230.0" y2="518.5" stroke="#c9c9c9" stroke-width="0.95"/>
<line x1="230.0" y1="488.40" x2="230.0" y2="518.5" stroke="#a0a0a0" stroke-width="0.6"/>
<line x1="241.8" y1="500.80" x2="241.8" y2="518.5" stroke="#c9c9c9" stroke-width="0.95"/>
<line x1="241.8" y1="488.40" x2="241.8" y2="518.5" stroke="#a0a0a0" stroke-width="0.6"/>
<line x1="269.2" y1="500.80" x2="269.2" y2="518.5" stroke="#c9c9c9" stroke-width="0.95"/>
<line x1="269.2" y1="488.40" x2="269.2" y2="518.5" stroke="#a0a0a0" stroke-width="0.6"/>
<line x1="273.4" y1="500.80" x2="273.4" y2="518.5" stroke="#c9c9c9" stroke-width="0.95"/>
<line x1="273.4" y1="488.40" x2="273.4" y2="518.5" stroke="#a0a0a0" stroke-width="0.6"/>
<line x1="255.7" y1="500.80" x2="255.7" y2="518.5" stroke="#c9c9c9" stroke-width="0.95"/>
<line x1="255.7" y1="463.60" x2="255.7" y2="518.5" stroke="#a0a0a0" stroke-width="0.6"/>
<line x1="275.4" y1="500.80" x2="275.4" y2="518.5" stroke="#c9c9c9" stroke-width="0.95"/>
<line x1="278.9" y1="500.80" x2="278.9" y2="518.5" stroke="#c9c9c9" stroke-width="0.95"/>
<line x1="283.8" y1="500.80" x2="283.8" y2="518.5" stroke="#c9c9c9" stroke-width="0.95"/>
<line x1="285.7" y1="500.80" x2="285.7" y2="518.5" stroke="#c9c9c9" stroke-width="0.95"/>
<line x1="291.2" y1="500.80" x2="291.2" y2="518.5" stroke="#c9c9c9" stroke-width="0.95"/>
<line x1="297.7" y1="500.80" x2="297.7" y2="518.5" stroke="#c9c9c9" stroke-width="0.95"/>
<line x1="302.6" y1="500.80" x2="302.6" y2="518.5" stroke="#c9c9c9" stroke-width="0.95"/>
<line x1="310.3" y1="500.80" x2="310.3" y2="518.5" stroke="#c9c9c9" stroke-width="0.95"/>
<line x1="318.9" y1="500.80" x2="318.9" y2="518.5" stroke="#c9c9c9" stroke-width="0.95"/>
<line x1="324.4" y1="500.80" x2="324.4" y2="518.5" stroke="#c9c9c9" stroke-width="0.95"/>
<line x1="334.8" y1="500.80" x2="334.8" y2="518.5" stroke="#c9c9c9" stroke-width="0.95"/>
<line x1="338.8" y1="500.80" x2="338.8" y2="518.5" stroke="#c9c9c9" stroke-width="0.95"/>
<line x1="352.5" y1="500.80" x2="352.5" y2="518.5" stroke="#c9c9c9" stroke-width="0.95"/>
<line x1="328.2" y1="500.80" x2="328.2" y2="518.5" stroke="#c9c9c9" stroke-width="0.95"/>
<line x1="346.4" y1="500.80" x2="346.4" y2="518.5" stroke="#c9c9c9" stroke-width="0.95"/>
<line x1="282.3" y1="500.80" x2="282.3" y2="518.5" stroke="#c9c9c9" stroke-width="0.95"/>
<line x1="282.3" y1="488.40" x2="282.3" y2="518.5" stroke="#a0a0a0" stroke-width="0.6"/>
<line x1="298.8" y1="500.80" x2="298.8" y2="518.5" stroke="#c9c9c9" stroke-width="0.95"/>
<line x1="298.8" y1="488.40" x2="298.8" y2="518.5" stroke="#a0a0a0" stroke-width="0.6"/>
<line x1="287.0" y1="500.80" x2="287.0" y2="518.5" stroke="#c9c9c9" stroke-width="0.95"/>
<line x1="287.0" y1="451.20" x2="287.0" y2="518.5" stroke="#a0a0a0" stroke-width="0.6"/>
<line x1="369.7" y1="500.80" x2="369.7" y2="518.5" stroke="#c9c9c9" stroke-width="0.95"/>
<line x1="372.8" y1="500.80" x2="372.8" y2="518.5" stroke="#c9c9c9" stroke-width="0.95"/>
<line x1="381.5" y1="500.80" x2="381.5" y2="518.5" stroke="#c9c9c9" stroke-width="0.95"/>
<line x1="384.3" y1="500.80" x2="384.3" y2="518.5" stroke="#c9c9c9" stroke-width="0.95"/>
<line x1="406.9" y1="500.80" x2="406.9" y2="518.5" stroke="#c9c9c9" stroke-width="0.95"/>
<line x1="412.3" y1="500.80" x2="412.3" y2="518.5" stroke="#c9c9c9" stroke-width="0.95"/>
<line x1="416.9" y1="500.80" x2="416.9" y2="518.5" stroke="#c9c9c9" stroke-width="0.95"/>
<line x1="420.8" y1="500.80" x2="420.8" y2="518.5" stroke="#c9c9c9" stroke-width="0.95"/>
<line x1="431.5" y1="500.80" x2="431.5" y2="518.5" stroke="#c9c9c9" stroke-width="0.95"/>
<line x1="433.8" y1="500.80" x2="433.8" y2="518.5" stroke="#c9c9c9" stroke-width="0.95"/>
<line x1="459.2" y1="500.80" x2="459.2" y2="518.5" stroke="#c9c9c9" stroke-width="0.95"/>
<line x1="391.5" y1="500.80" x2="391.5" y2="518.5" stroke="#c9c9c9" stroke-width="0.95"/>
<line x1="392.0" y1="500.80" x2="392.0" y2="518.5" stroke="#c9c9c9" stroke-width="0.95"/>
<line x1="392.0" y1="488.40" x2="392.0" y2="518.5" stroke="#a0a0a0" stroke-width="0.6"/>
<line x1="407.2" y1="500.80" x2="407.2" y2="518.5" stroke="#c9c9c9" stroke-width="0.95"/>
<line x1="407.2" y1="476.00" x2="407.2" y2="518.5" stroke="#a0a0a0" stroke-width="0.6"/>
<line x1="369.5" y1="500.80" x2="369.5" y2="518.5" stroke="#c9c9c9" stroke-width="0.95"/>
<line x1="369.5" y1="463.60" x2="369.5" y2="518.5" stroke="#a0a0a0" stroke-width="0.6"/>
<line x1="425.4" y1="500.80" x2="425.4" y2="518.5" stroke="#c9c9c9" stroke-width="0.95"/>
<line x1="451.8" y1="500.80" x2="451.8" y2="518.5" stroke="#c9c9c9" stroke-width="0.95"/>
<line x1="451.8" y1="463.60" x2="451.8" y2="518.5" stroke="#a0a0a0" stroke-width="0.6"/>
<line x1="449.7" y1="500.80" x2="449.7" y2="518.5" stroke="#c9c9c9" stroke-width="0.95"/>
<line x1="449.7" y1="451.20" x2="449.7" y2="518.5" stroke="#a0a0a0" stroke-width="0.6"/>
<rect x="449.3" y="452" width="3.0" height="66" fill="#dadada"/>
<path d="M258.3,447.6 L273.4,486.5" stroke="#707070" stroke-width="0.7" fill="none"/>
<line x1="275.6" y1="448.5" x2="275.6" y2="500" stroke="#707070" stroke-width="0.7"/>
<path d="M286.0,442.6 C280.5,445 277.2,455 276.8,466 L276.6,499" stroke="#707070" stroke-width="0.7" fill="none"/>
<line x1="328.8" y1="448.5" x2="328.8" y2="500" stroke="#707070" stroke-width="0.7"/>
<line x1="406.9" y1="448" x2="406.9" y2="475" stroke="#707070" stroke-width="0.7"/>
<line x1="425.4" y1="448" x2="425.4" y2="500" stroke="#707070" stroke-width="0.7"/>
<circle cx="74.0" cy="500.80" r="1.45" fill="#111111"/>
<circle cx="76.7" cy="500.80" r="1.45" fill="#111111"/>
<circle cx="80.3" cy="500.80" r="1.45" fill="#111111"/>
<circle cx="85.9" cy="500.80" r="1.45" fill="#111111"/>
<circle cx="88.0" cy="500.80" r="1.45" fill="#111111"/>
<circle cx="94.0" cy="500.80" r="1.45" fill="#111111"/>
<circle cx="98.3" cy="500.80" r="1.45" fill="#111111"/>
<circle cx="99.6" cy="500.80" r="1.45" fill="#111111"/>
<circle cx="105.6" cy="500.80" r="1.45" fill="#111111"/>
<circle cx="112.7" cy="500.80" r="1.45" fill="#111111"/>
<circle cx="114.5" cy="500.80" r="1.45" fill="#111111"/>
<circle cx="122.2" cy="500.80" r="1.45" fill="#111111"/>
<circle cx="135.5" cy="500.80" r="1.45" fill="#111111"/>
<circle cx="138.0" cy="500.80" r="1.45" fill="#111111"/>
<circle cx="140.4" cy="500.80" r="1.45" fill="#111111"/>
<circle cx="128.8" cy="500.80" r="1.45" fill="#3d6b55"/>
<circle cx="88.0" cy="488.40" r="1.45" fill="#111111"/>
<circle cx="110.0" cy="488.40" r="1.45" fill="#d8955c"/>
<circle cx="110.0" cy="476.00" r="1.45" fill="#d8955c"/>
<circle cx="150.5" cy="500.80" r="1.45" fill="#111111"/>
<circle cx="159.1" cy="500.80" r="1.45" fill="#111111"/>
<circle cx="166.4" cy="500.80" r="1.45" fill="#111111"/>
<circle cx="176.2" cy="500.80" r="1.45" fill="#111111"/>
<circle cx="178.5" cy="500.80" r="1.45" fill="#111111"/>
<circle cx="187.7" cy="500.80" r="1.45" fill="#111111"/>
<circle cx="191.5" cy="500.80" r="1.45" fill="#111111"/>
<circle cx="193.0" cy="500.80" r="1.45" fill="#111111"/>
<circle cx="198.5" cy="500.80" r="1.45" fill="#111111"/>
<circle cx="202.5" cy="500.80" r="1.45" fill="#111111"/>
<circle cx="205.1" cy="500.80" r="1.45" fill="#111111"/>
<circle cx="207.3" cy="500.80" r="1.45" fill="#111111"/>
<circle cx="153.0" cy="500.80" r="1.45" fill="#d8c0a8"/>
<circle cx="162.9" cy="500.80" r="1.45" fill="#d8c0a8"/>
<circle cx="163.3" cy="488.40" r="1.45" fill="#111111"/>
<circle cx="168.4" cy="488.40" r="1.45" fill="#111111"/>
<circle cx="201.5" cy="476.00" r="1.45" fill="#111111"/>
<circle cx="228.5" cy="500.80" r="1.45" fill="#d8955c"/>
<circle cx="231.8" cy="500.80" r="1.45" fill="#111111"/>
<circle cx="248.9" cy="500.80" r="1.45" fill="#111111"/>
<circle cx="250.8" cy="500.80" r="1.45" fill="#111111"/>
<circle cx="260.0" cy="500.80" r="1.45" fill="#111111"/>
<circle cx="268.9" cy="500.80" r="1.45" fill="#111111"/>
<circle cx="271.5" cy="500.80" r="1.45" fill="#111111"/>
<circle cx="230.0" cy="488.40" r="1.45" fill="#2f5f55"/>
<circle cx="241.8" cy="488.40" r="1.45" fill="#d8955c"/>
<circle cx="269.2" cy="488.40" r="1.45" fill="#111111"/>
<circle cx="273.4" cy="488.40" r="1.45" fill="#d8955c"/>
<circle cx="255.7" cy="476.00" r="1.45" fill="#d8955c"/>
<circle cx="255.7" cy="463.60" r="1.45" fill="#d8955c"/>
<circle cx="275.4" cy="500.80" r="1.45" fill="#9a7a66"/>
<circle cx="278.9" cy="500.80" r="1.45" fill="#111111"/>
<circle cx="283.8" cy="500.80" r="1.45" fill="#111111"/>
<circle cx="285.7" cy="500.80" r="1.45" fill="#111111"/>
<circle cx="291.2" cy="500.80" r="1.45" fill="#111111"/>
<circle cx="297.7" cy="500.80" r="1.45" fill="#111111"/>
<circle cx="302.6" cy="500.80" r="1.45" fill="#111111"/>
<circle cx="310.3" cy="500.80" r="1.45" fill="#111111"/>
<circle cx="318.9" cy="500.80" r="1.45" fill="#111111"/>
<circle cx="324.4" cy="500.80" r="1.45" fill="#111111"/>
<circle cx="334.8" cy="500.80" r="1.45" fill="#111111"/>
<circle cx="338.8" cy="500.80" r="1.45" fill="#111111"/>
<circle cx="352.5" cy="500.80" r="1.45" fill="#111111"/>
<circle cx="328.2" cy="500.80" r="1.45" fill="#5d6a45"/>
<circle cx="346.4" cy="500.80" r="1.45" fill="#3c5a4e"/>
<circle cx="282.3" cy="488.40" r="1.45" fill="#111111"/>
<circle cx="298.8" cy="488.40" r="1.45" fill="#d8955c"/>
<circle cx="287.0" cy="451.20" r="1.45" fill="#d8955c"/>
<circle cx="369.7" cy="500.80" r="1.45" fill="#111111"/>
<circle cx="372.8" cy="500.80" r="1.45" fill="#111111"/>
<circle cx="381.5" cy="500.80" r="1.45" fill="#111111"/>
<circle cx="384.3" cy="500.80" r="1.45" fill="#111111"/>
<circle cx="406.9" cy="500.80" r="1.45" fill="#111111"/>
<circle cx="412.3" cy="500.80" r="1.45" fill="#111111"/>
<circle cx="416.9" cy="500.80" r="1.45" fill="#111111"/>
<circle cx="420.8" cy="500.80" r="1.45" fill="#111111"/>
<circle cx="431.5" cy="500.80" r="1.45" fill="#111111"/>
<circle cx="433.8" cy="500.80" r="1.45" fill="#111111"/>
<circle cx="459.2" cy="500.80" r="1.45" fill="#111111"/>
<circle cx="391.5" cy="500.80" r="1.45" fill="#c99a70"/>
<circle cx="392.0" cy="488.40" r="1.45" fill="#d8955c"/>
<circle cx="407.2" cy="476.00" r="1.45" fill="#d8955c"/>
<circle cx="369.5" cy="463.60" r="1.45" fill="#d8955c"/>
<circle cx="425.4" cy="500.80" r="1.45" fill="#c8a080"/>
<circle cx="451.8" cy="463.60" r="1.45" fill="#111111"/>
<circle cx="449.7" cy="451.20" r="1.45" fill="#d8955c"/>
<text x="0" y="0" font-size="7.7" fill="#222" stroke="#222" stroke-width="0.15" transform="translate(252.3,449.3) rotate(-38)">X444_splice<tspan dx="1.3" dy="-2" font-size="6.5">*</tspan></text>
<text x="0" y="0" font-size="7.7" fill="#222" stroke="#222" stroke-width="0.15" transform="translate(270.5,449.0) rotate(-38)">L448_V450del<tspan dx="1.3" dy="-2" font-size="6.5">*</tspan></text>
<text x="0" y="0" font-size="7.7" fill="#222" stroke="#222" stroke-width="0.15" transform="translate(292.1,445.6) rotate(-38)">G449V<tspan dx="1.3" dy="-2" font-size="6.5">*</tspan></text>
<text x="0" y="0" font-size="7.7" fill="#222" stroke="#222" stroke-width="0.15" transform="translate(325.7,446.3) rotate(-38)">X566_splice<tspan dx="1.3" dy="-2" font-size="6.5">*</tspan></text>
<text x="0" y="0" font-size="7.7" fill="#222" stroke="#222" stroke-width="0.15" transform="translate(402.90000000000003,448.6) rotate(-38)">X737_splice<tspan dx="1.3" dy="-2" font-size="6.5">*</tspan></text>
<text x="0" y="0" font-size="7.7" fill="#222" stroke="#222" stroke-width="0.15" transform="translate(424.40000000000003,448.3) rotate(-38)">X775_splice<tspan dx="1.3" dy="-2" font-size="6.5">*</tspan></text>
<text x="0" y="0" font-size="7.7" fill="#222" stroke="#222" stroke-width="0.15" transform="translate(448.7,447.3) rotate(-38)">X830_splice<tspan dx="1.3" dy="-2" font-size="6.5">*</tspan></text>
<rect x="70" y="518.4" width="425.5" height="7.4" fill="#bdbdbd"/>
<rect x="120.6" y="515.6" width="53.900000000000006" height="13.2" fill="#52b848" rx="0.8"/>
<text x="147.55" y="525.00" font-size="7.2" font-weight="normal" font-style="normal" fill="#fff" text-anchor="middle" >DUF3452</text>
<rect x="240.3" y="515.6" width="92.09999999999997" height="13.2" fill="#ef5557" rx="0.8"/>
<text x="286.35" y="525.00" font-size="7.2" font-weight="normal" font-style="normal" fill="#fff" text-anchor="middle" >RB_A</text>
<rect x="365.0" y="515.6" width="56.0" height="13.2" fill="#5059b0" rx="0.8"/>
<text x="393.00" y="525.00" font-size="7.2" font-weight="normal" font-style="normal" fill="#fff" text-anchor="middle" >RB_B</text>
<rect x="421.0" y="515.6" width="74.39999999999998" height="13.2" fill="#e8d020" rx="0.8"/>
<text x="458.20" y="525.00" font-size="7.2" font-weight="normal" font-style="normal" fill="#fff" text-anchor="middle" >Rb_C</text>
<line x1="70" y1="531.6" x2="495.5" y2="531.6" stroke="#999" stroke-width="0.8"/>
<line x1="70.00" y1="531.6" x2="70.00" y2="534" stroke="#999" stroke-width="0.8"/>
<line x1="115.85" y1="531.6" x2="115.85" y2="534" stroke="#999" stroke-width="0.8"/>
<line x1="161.70" y1="531.6" x2="161.70" y2="534" stroke="#999" stroke-width="0.8"/>
<line x1="207.55" y1="531.6" x2="207.55" y2="534" stroke="#999" stroke-width="0.8"/>
<line x1="253.40" y1="531.6" x2="253.40" y2="534" stroke="#999" stroke-width="0.8"/>
<line x1="299.25" y1="531.6" x2="299.25" y2="534" stroke="#999" stroke-width="0.8"/>
<line x1="345.10" y1="531.6" x2="345.10" y2="534" stroke="#999" stroke-width="0.8"/>
<line x1="390.95" y1="531.6" x2="390.95" y2="534" stroke="#999" stroke-width="0.8"/>
<line x1="436.80" y1="531.6" x2="436.80" y2="534" stroke="#999" stroke-width="0.8"/>
<line x1="495.49" y1="531.6" x2="495.49" y2="534" stroke="#999" stroke-width="0.8"/>
<text x="70.00" y="543.30" font-size="8.6" font-weight="normal" font-style="normal" fill="#333" text-anchor="middle" stroke="#333" stroke-width="0.18" >0</text>
<text x="161.70" y="543.30" font-size="8.6" font-weight="normal" font-style="normal" fill="#333" text-anchor="middle" stroke="#333" stroke-width="0.18" >200</text>
<text x="253.40" y="543.30" font-size="8.6" font-weight="normal" font-style="normal" fill="#333" text-anchor="middle" stroke="#333" stroke-width="0.18" >400</text>
<text x="345.10" y="543.30" font-size="8.6" font-weight="normal" font-style="normal" fill="#333" text-anchor="middle" stroke="#333" stroke-width="0.18" >600</text>
<text x="436.80" y="543.30" font-size="8.6" font-weight="normal" font-style="normal" fill="#333" text-anchor="middle" stroke="#333" stroke-width="0.18" >800</text>
<text x="483.70" y="543.30" font-size="8.6" font-weight="normal" font-style="normal" fill="#333" text-anchor="start" stroke="#333" stroke-width="0.18" >928aa</text>
<rect x="70.00" y="550.6" width="21.14" height="5.0" fill="#3f70c0"/>
<text x="80.55" y="555.10" font-size="5.2" font-weight="normal" font-style="normal" fill="#e8f2fb" text-anchor="middle" >1</text>
<rect x="91.09" y="550.6" width="19.31" height="5.0" fill="#56b4e8"/>
<text x="100.72" y="555.10" font-size="5.2" font-weight="normal" font-style="normal" fill="#e8f2fb" text-anchor="middle" >2</text>
<rect x="110.35" y="550.6" width="17.93" height="5.0" fill="#3f70c0"/>
<text x="119.29" y="555.10" font-size="5.2" font-weight="normal" font-style="normal" fill="#e8f2fb" text-anchor="middle" >3</text>
<rect x="128.23" y="550.6" width="18.39" height="5.0" fill="#56b4e8"/>
<text x="137.40" y="555.10" font-size="5.2" font-weight="normal" font-style="normal" fill="#e8f2fb" text-anchor="middle" >4</text>
<rect x="146.57" y="550.6" width="6.01" height="5.0" fill="#3f70c0"/>
<text x="149.55" y="555.10" font-size="5.2" font-weight="normal" font-style="normal" fill="#e8f2fb" text-anchor="middle" >5</text>
<rect x="152.53" y="550.6" width="10.60" height="5.0" fill="#56b4e8"/>
<text x="157.80" y="555.10" font-size="5.2" font-weight="normal" font-style="normal" fill="#e8f2fb" text-anchor="middle" >6</text>
<rect x="163.08" y="550.6" width="17.01" height="5.0" fill="#3f70c0"/>
<text x="171.56" y="555.10" font-size="5.2" font-weight="normal" font-style="normal" fill="#e8f2fb" text-anchor="middle" >7</text>
<rect x="180.04" y="550.6" width="21.60" height="5.0" fill="#56b4e8"/>
<text x="190.81" y="555.10" font-size="5.2" font-weight="normal" font-style="normal" fill="#e8f2fb" text-anchor="middle" >8</text>
<rect x="201.59" y="550.6" width="11.97" height="5.0" fill="#3f70c0"/>
<text x="207.55" y="555.10" font-size="5.2" font-weight="normal" font-style="normal" fill="#e8f2fb" text-anchor="middle" >9</text>
<rect x="213.51" y="550.6" width="17.01" height="5.0" fill="#56b4e8"/>
<text x="221.99" y="555.10" font-size="5.2" font-weight="normal" font-style="normal" fill="#e8f2fb" text-anchor="middle" >10</text>
<rect x="230.47" y="550.6" width="11.97" height="5.0" fill="#3f70c0"/>
<text x="236.44" y="555.10" font-size="5.2" font-weight="normal" font-style="normal" fill="#e8f2fb" text-anchor="middle" >11</text>
<rect x="242.40" y="550.6" width="13.35" height="5.0" fill="#56b4e8"/>
<text x="249.04" y="555.10" font-size="5.2" font-weight="normal" font-style="normal" fill="#e8f2fb" text-anchor="middle" >12</text>
<rect x="255.69" y="550.6" width="17.93" height="5.0" fill="#3f70c0"/>
<text x="264.63" y="555.10" font-size="5.2" font-weight="normal" font-style="normal" fill="#e8f2fb" text-anchor="middle" >13</text>
<rect x="273.57" y="550.6" width="8.76" height="5.0" fill="#56b4e8"/>
<rect x="282.29" y="550.6" width="5.09" height="5.0" fill="#3f70c0"/>
<rect x="287.33" y="550.6" width="11.97" height="5.0" fill="#56b4e8"/>
<text x="293.29" y="555.10" font-size="5.2" font-weight="normal" font-style="normal" fill="#e8f2fb" text-anchor="middle" >16</text>
<rect x="299.25" y="550.6" width="29.85" height="5.0" fill="#3f70c0"/>
<text x="314.15" y="555.10" font-size="5.2" font-weight="normal" font-style="normal" fill="#e8f2fb" text-anchor="middle" >17</text>
<rect x="329.05" y="550.6" width="18.39" height="5.0" fill="#56b4e8"/>
<text x="338.22" y="555.10" font-size="5.2" font-weight="normal" font-style="normal" fill="#e8f2fb" text-anchor="middle" >18</text>
<rect x="347.39" y="550.6" width="22.52" height="5.0" fill="#3f70c0"/>
<text x="358.63" y="555.10" font-size="5.2" font-weight="normal" font-style="normal" fill="#e8f2fb" text-anchor="middle" >19</text>
<rect x="369.86" y="550.6" width="22.06" height="5.0" fill="#56b4e8"/>
<text x="380.86" y="555.10" font-size="5.2" font-weight="normal" font-style="normal" fill="#e8f2fb" text-anchor="middle" >20</text>
<rect x="391.87" y="550.6" width="16.10" height="5.0" fill="#3f70c0"/>
<text x="399.89" y="555.10" font-size="5.2" font-weight="normal" font-style="normal" fill="#e8f2fb" text-anchor="middle" >21</text>
<rect x="407.91" y="550.6" width="17.47" height="5.0" fill="#56b4e8"/>
<text x="416.63" y="555.10" font-size="5.2" font-weight="normal" font-style="normal" fill="#e8f2fb" text-anchor="middle" >22</text>
<rect x="425.34" y="550.6" width="25.27" height="5.0" fill="#3f70c0"/>
<text x="437.95" y="555.10" font-size="5.2" font-weight="normal" font-style="normal" fill="#e8f2fb" text-anchor="middle" >23</text>
<rect x="450.56" y="550.6" width="4.64" height="5.0" fill="#56b4e8"/>
<rect x="455.14" y="550.6" width="22.06" height="5.0" fill="#3f70c0"/>
<text x="466.14" y="555.10" font-size="5.2" font-weight="normal" font-style="normal" fill="#e8f2fb" text-anchor="middle" >25</text>
<rect x="477.15" y="550.6" width="9.68" height="5.0" fill="#56b4e8"/>
<rect x="486.78" y="550.6" width="8.76" height="5.0" fill="#3f70c0"/>
<text x="491.13" y="555.10" font-size="5.2" font-weight="normal" font-style="normal" fill="#e8f2fb" text-anchor="middle" >27</text>
<text x="10.00" y="554.50" font-size="8.5" font-weight="normal" font-style="normal" fill="#222" text-anchor="start" stroke="#222" stroke-width="0.18" >Exon</text>
<text x="9.50" y="568.30" font-size="8.6" font-weight="normal" font-style="normal" fill="#222" text-anchor="start" stroke="#222" stroke-width="0.18" >Mutation type</text>
<circle cx="78.5" cy="567.2" r="3.1" fill="#111"/>
<circle cx="78.5" cy="577.3" r="3.1" fill="#dd8a3c"/>
<circle cx="236.3" cy="566.9" r="3.1" fill="#1b8a48"/>
<circle cx="236.3" cy="577.5" r="3.1" fill="#a23b2a"/>
<text x="87.80" y="570.30" font-size="7.89" font-weight="normal" font-style="normal" fill="#222" text-anchor="start" stroke="#222" stroke-width="0.18" >Truncating (nonsense, frameshift)</text>
<text x="87.80" y="580.30" font-size="7.89" font-weight="normal" font-style="normal" fill="#222" text-anchor="start" stroke="#222" stroke-width="0.18" >Splice site (canonical, noncanonical)</text>
<text x="243.80" y="569.90" font-size="7.9" font-weight="normal" font-style="normal" fill="#222" text-anchor="start" stroke="#222" stroke-width="0.18" >Missense</text>
<text x="243.80" y="580.40" font-size="7.9" font-weight="normal" font-style="normal" fill="#222" text-anchor="start" stroke="#222" stroke-width="0.18" >In Frame</text>
<text x="374.00" y="574.00" font-size="8.04" font-weight="normal" font-style="normal" fill="#222" text-anchor="start" stroke="#222" stroke-width="0.18" >*Retained Rb expression by IHC</text>
</svg>
</body></html>
